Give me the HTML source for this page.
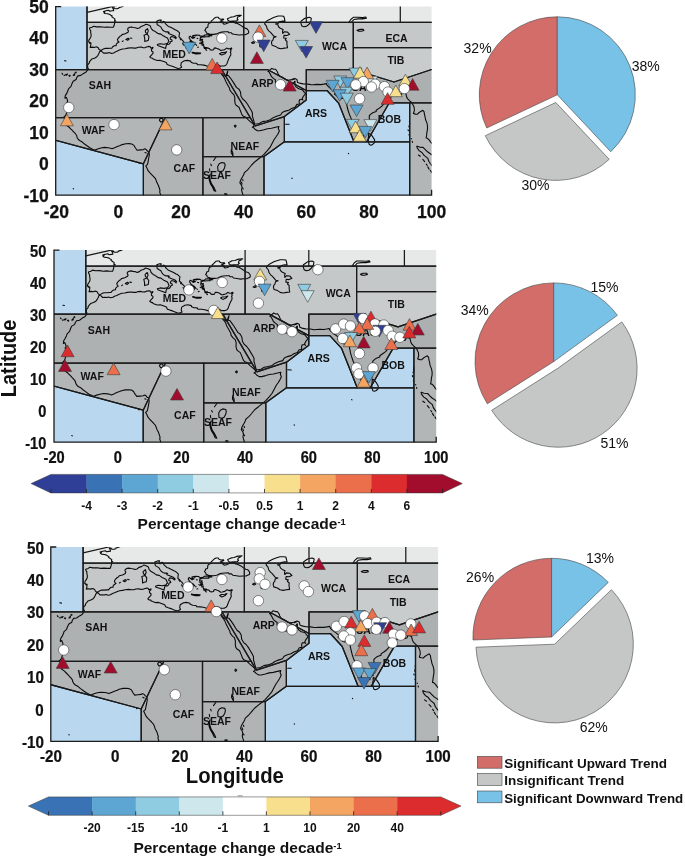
<!DOCTYPE html>
<html lang="en"><head><meta charset="utf-8"><title>Trend maps</title>
<style>html,body{margin:0;padding:0;background:#fff}svg{display:block}text{font-family:"Liberation Sans",Arial,sans-serif;fill:#111}.b{font-weight:700}.mk polygon,.mk circle{stroke:#3a3a3a;stroke-width:.6;stroke-linejoin:miter}.rg polygon{stroke:#1a1a1a;stroke-width:1.25;stroke-linejoin:round}.cs polyline,.cs polygon{fill:none;stroke:#0a0a0a;stroke-width:1.1;stroke-linejoin:round;stroke-linecap:round}</style></head><body>
<svg width="685" height="857" viewBox="0 0 685 857">
<rect width="685" height="857" fill="#fff"/>
<clipPath id="c0"><rect x="55.7" y="6.6" width="375.9" height="188.6"/></clipPath>
<g clip-path="url(#c0)">
<g class="rg" stroke="none">
<polygon points="87,22.3 87,-12.3 450.4,-12.3 450.4,22.3" fill="#e7e8e8" style="stroke:none"/>
<polygon points="36.9,69.5 36.9,-12.3 87,-12.3 87,69.5" fill="#b9d7ee" style="stroke:none"/>
<polygon points="87,69.5 87,22.3 243.7,22.3 243.7,69.5" fill="#c5c8c8" style="stroke:none"/>
<polygon points="243.7,69.5 243.7,22.3 353.3,22.3 353.3,69.5 306.3,69.5 306.3,90.5 267.5,69.5" fill="#c5c8c8" style="stroke:none"/>
<polygon points="353.3,47.5 353.3,22.3 450.4,22.3 450.4,47.5" fill="#c5c8c8" style="stroke:none"/>
<polygon points="353.3,69.5 353.3,47.5 450.4,47.5 450.4,63.2 431.6,69.5 394,82" fill="#c9cccc" style="stroke:none"/>
<polygon points="36.9,117.6 36.9,69.5 221.7,69.5 250.2,117.6" fill="#aeb1b2" style="stroke:none"/>
<polygon points="221.7,69.5 267.5,69.5 306.3,90.5 306.3,100 284.4,116.6 255.2,126" fill="#aeb1b2" style="stroke:none"/>
<polygon points="36.9,135.2 36.9,117.6 165.3,117.6 143.4,163.8" fill="#b3b6b7" style="stroke:none"/>
<polygon points="36.9,214.1 36.9,135.2 143.4,163.8 143.4,214.1" fill="#b9d7ee" style="stroke:none"/>
<polygon points="143.4,163.8 165.3,117.6 202.9,117.6 202.9,214.1 143.4,214.1" fill="#b1b4b5" style="stroke:none"/>
<polygon points="202.9,156.5 202.9,117.6 250.2,117.6 255.2,126 284.4,116.6 284.4,141.8 264,156.5" fill="#b1b4b5" style="stroke:none"/>
<polygon points="202.9,214.1 202.9,156.5 264,156.5 264,214.1" fill="#b1b4b5" style="stroke:none"/>
<polygon points="284.4,141.8 284.4,116.6 306.3,100 306.3,90.5 327,90.5 338.6,103.1 353.9,141.8" fill="#b9d7ee" style="stroke:none"/>
<polygon points="306.3,90.5 306.3,69.5 353.3,69.5 394,82 431.6,69.5 450.4,63.2 450.4,102.8 389.3,102.8 366.8,141.8 353.9,141.8 338.6,103.1 327,90.5" fill="#adb0b1" style="stroke:none"/>
<polygon points="366.8,141.8 389.3,102.8 409.7,102.8 409.7,141.8" fill="#b9d7ee" style="stroke:none"/>
<polygon points="409.7,102.8 450.4,102.8 450.4,214.1 409.7,214.1" fill="#b3b6b7" style="stroke:none"/>
<polygon points="264,214.1 264,156.5 284.4,141.8 409.7,141.8 409.7,214.1" fill="#b9d7ee" style="stroke:none"/>
</g>
<g class="cs">
<polyline points="123.4,6 121.5,6.9 119,7.5 118.7,8.3 117.1,8.8 114.9,8.6 114.3,7.9 112.4,7.5 113.3,9.1 113.7,10.7 112.1,10.8 109.9,11.2 108.6,10.2 106.1,10.7 103.5,11.5 104.9,11.9 103.9,12.7 104.9,13.5 107.7,13.8 109.9,14.5 110.8,15.2 112.1,15.7 111.8,16.7 113.7,18.1 114.9,18.9 114.6,20.1 115.8,21.1 114.7,20.7 114.6,23.3 114,25.8 113.3,27.3 112.7,27.3 110.2,27.3 107.4,27 104.3,27.3 100.5,26.7 96.4,26.9 93.6,26.2 92,27.3 89.5,28.1 89.8,29.5 90.8,30.8 90.6,32.1 91.1,34.3 91.1,36.1 90.5,37.7 88.9,40.1 88.6,42 89.7,42.3 89.5,43.1 90.9,42.9 90.8,44.6 90.6,46.2 90.2,47.5 92.4,47.1 94.2,47.5 96.4,46.8 98.3,47.8 98.9,49.3 100.5,50.4 101.6,50.1 103.3,49 104.9,48.4 107.4,48.4 110.2,48.2 111.8,48.2 112.7,46.8 114.3,45.7 116.2,45.6 116.2,44.3 117.4,42.9 119,42 118,41.2 117.4,39.6 118.4,38 120.2,36.1 121.2,35.7 122.1,34.6 125.2,33.8 128.1,32.2 128.5,30.8 127.7,29.9 127.9,28.3 129.6,27.3 131.5,27 133.4,27.5 135.3,27.7 137.5,28.4 139.3,28 141.2,26.4 143.7,25.6 145.9,24.2 148.1,24.8 150.3,25.9 151.2,28.6 153.1,30.5 155.3,31.6 156.9,32.7 158.1,33.6 161,34.1 162.5,35.4 163.8,36.1 165.3,36.9 167.4,37.9 168.2,39.6 168.9,41.5 168,42.4 167.4,44 167.7,44.5 168.9,44.3 170.2,43.1 170.3,41.8 172.1,41.2 171.9,39.9 170.2,39 170.3,37.7 171.3,36.6 172.5,36.8 174.4,37.4 175.8,38.7 176.3,37.6 174.7,36 171.6,34.7 168.5,33.5 168.2,32.8 169.1,32.2 168.2,31.9 166,31.9 164.4,31.3 162.8,30.2 161.7,28.6 160.8,26.9 158.8,25.6 157.2,24.7 156.9,22.9 157.2,22.3 156.6,21.2 158.1,20.6 159.7,20 161.3,20.1 160.8,20.9 161,22.3 161.9,22.9 163,21.7 163.8,21.4 165,22.3 165.3,23.7 166.6,24.8 168.3,26.4 170,27 172.2,28.1 173.8,28.9 175.7,30 176.9,30.5 178.3,31.7 179.6,32.8 179.3,34.3 179.1,36.1 179,36.9 180.7,38.3 181.5,39.4 183.2,41.2 183.8,42 184.4,43.2 186,43.4 187.9,43.2 190.1,44.3 188.2,43.7 186.3,43.7 185.1,44.5 185.1,45.6 186.2,46.8 186.3,48.1 187.1,48.1 187.7,47.5 188.5,49.2 189.1,48.1 190.6,48.9 191,49.2 190.4,47.5 189.8,46 191,46.4 192,45.9 190.9,44.6 192.3,44.6 193.7,45.4 193.7,43.8 192.3,42.7 190.4,41.6 189.8,41.6 191.3,40.5 190.2,40.1 189.9,39 189.1,38 189.3,36.6 190.1,36.1 191.3,37.2 192.6,38.2 191.8,37.2 193.4,38.2 192.7,37.1 194.8,37.6 193.2,36.6 192.6,35.8 194.5,35.4 196.7,35 199.5,35.4 200,36 202.3,36.1 200.4,37.1 200.4,37.9 202,36.6 203.9,35.8 204.8,35 206.7,34.7 209.2,34.9 209.3,34.1 206.4,33 206.1,31.7 204.8,30.3 205.7,29.2 205.9,28 207.8,27.3 207.9,26.1 208.1,24.5 209,23.3 211.2,22.6 211.2,21.2 213,19.6 214.7,17.9 216.1,17.3 218.3,17.3 218.9,18.5 220.8,19.2 223.3,19 223.6,19.6 220.2,21.2 223,21.8 223,23.6 224.1,24.2 226.1,23.7 228.3,22.8 229.6,22 232.5,22.2 233,21.1 229.6,21.4 228,20.3 227.4,18.7 229.1,18.1 230.8,17.1 233.6,16.8 236.1,15.7 238.3,15.4 241.3,15.2 239.3,16.5 237.7,17.1 237.1,19 238,19.5 236.4,21.1 233.6,21.1 233,21.8 235.2,23.1 236.8,23.3 239.3,24.5 241.1,25.6 243,27 244.9,28.1 246.8,28.6 248.3,30.5 248.8,32.1 248.3,33.3 245.2,34.7 242.4,34.7 239,35 237.1,34.7 234.3,34.3 232.2,33.9 231.1,32.7 228.6,32.7 228.3,31.7 224.9,31.8 221.7,32.1 219.2,32.7 216.7,33.9 213.6,34.4 209.8,34.3 209.3,34.7 212,35.7 208.9,36 209.2,36.8 206.1,36.8 204.8,36.9 202.9,36.8 201,37.6 200.3,38.2 200.1,39.6 202.6,39.4 202,40.4 202.9,41.3 202.3,42.1 200.9,42.3 201.7,43.1 203.2,42.9 202,43.4 200.7,43.5 202,44.2 203.7,44.5 203.6,46.2 204.5,47.1 203.9,47.5 206.7,47.5 204.2,48.4 206.1,48.7 207,47.9 208.9,48.4 209.7,48.7 210.1,49.8 211.7,50.1 213.6,49.8 214.2,48.1 215.5,47.9 217.3,48.6 218.6,49 220.5,50.4 222,50.3 224.5,49.7 226.7,48.1 228.6,48.9 229.9,48.7 231.6,47.9 231.7,48.9 230.5,49.7 231,50.9 230.3,52.2 230.8,53.1 230.8,54.9 230,56.3 229.6,57.2 228.6,59.1 228,60.7 227.5,61.9 227,63.5 226.1,64.8 225.5,65.4 223.9,66 222,66 220.5,66.2 219.5,65.4 218,64.8 216.1,64.6 214.8,64.9 213.6,64.8 212,65.7 209.8,66.8 207,66 203.9,65.1 200.7,64.8 197.3,64.6 196.7,63.3 193.5,63.2 191,62.2 190.7,61.1 187.3,60.4 184.4,60.7 181.3,62.6 180.8,65.4 181.6,67.3 179.7,68.2 177.9,68.5 175.4,67.6 172.2,66.3 169.7,65.5 167.2,64.6 166.3,62.6 163.8,61.6 160.3,60.4 157.2,60.5 154.4,59.6 153.1,59.1 152.8,58.2 151.2,58 149.8,56.9 151.2,55.3 153,53.4 153,51.9 151.6,51.1 151.4,49.5 152.8,48.1 153,47.2 151.2,47.9 150.6,47.9 150.3,46.8 149.2,46.4 147.2,46.8 145.3,47.6 143.1,47.8 141.2,47.1 138.4,47.3 136.2,48.1 134.3,48.1 131.2,47.8 127.9,48.1 125.2,48.7 122.4,49 119.3,50.1 117.4,51.1 115.2,51.9 113.7,53 111.5,53.4 109.1,52.6 107.7,53.1 105.8,53 103.6,53.1 101.7,51.4 101.1,50.9 99.9,51.2 99.2,52.8 98,55.3 96.9,56.7 94.5,58.2 91.7,59.1 89.4,61.9 89.2,63.2 87.7,64.8 87.5,67.4 88.3,68.4 87.3,70.4 86.1,72 83.6,73.4 80.8,75.4 77.9,75.9 76.7,77.6 76.1,79.5 73.2,81.3 72,83.6 71,86.4 68.5,88.8 67.9,90.8 66.7,93.4 65.3,95.6 64.9,98.2 66.4,97.4 67.3,99.6 67.6,101.5 66.7,102.8 67.9,104.7 68.2,107.2 67.3,110.3 66.5,113.5 65.4,115.7 63.5,117.4 64.8,118.5 65.9,120.1 66,121.6 65.7,123.5 66,124.9 67.6,126 68.9,127 70.7,128.9 72.3,130.4 73.6,131.9 75.4,133.7 76.7,135.5 77,137.2 77.9,138.9 79.5,140.5 82.3,142.1 84.5,144 87.3,146 90.2,148 93,149.5 94.9,150.1 97.7,149 100.8,148 104.3,147.4 108.3,147.7 110.5,148.2 112.1,148.8 114.6,147.7 117.4,146.5 120.2,145.5 122.1,144.6 125.9,143.8 129,143.6 131.8,144 134,145.4 135.3,147.7 137.1,150.3 140.3,149.9 143.4,149.6 145,148.8 146.2,149.6 147.5,151.2 148.4,151.4 149,153.1 149.4,154.7 149,156.5 148.4,160 148,162.2 147.5,164.4 145.8,165.8 146.9,167.9 148.1,170.7 150,172.9 151.9,174.8 153.4,176.3 155.5,178.7 156.4,181.1 156.9,182.6 158.4,185.5 159.4,188.3 160,190.5 159.7,192.1 160.3,193.9 161,196.1"/>
<polygon points="267.5,20.4 265.3,22.3 264.6,23.9 266.5,26.1 267.1,28.6 268.7,30.8 270.6,32.4 272.5,34.6 273.7,36.1 276.1,36.8 273.4,37.7 273.1,39.9 271.8,41.2 271.5,43.1 272.2,45.3 275.6,46.4 278.1,48.1 281.2,48.7 284.4,48.1 287.5,47.8 287.2,46.2 286.9,43.7 287,41.5 285.3,39.9 286.3,38.3 283.7,38 284.1,35.2 286.9,35.5 289.7,34.3 287.5,32.1 284.4,31.7 282.8,33.3 282.5,31.4 283.1,29.5 280.3,28.3 278.7,27 277.8,24.8 275.6,23.9 278.1,23.6 279,21.7 282.8,21.1 285,21.4 284.4,18.2 283.7,16.3 281.2,16 278.1,16 275,17 272.5,17.9 270.6,18.9 267.5,20.4"/>
<polygon points="301,23.6 301,21.1 303.2,19.5 305,18.2 307.9,17.6 309.4,17.3 311.3,18.2 311,20.4 310.1,22.6 308.8,24.5 306.3,26.4 303.8,26.7 301.9,26.1 301,23.6"/>
<polygon points="348.9,22.3 350.8,19.5 353.3,17.3 358,17.3 362.7,17.6 365.8,17 366.4,18.2 362.7,18.9 358,18.9 353.9,19.5 352,21.7 350.2,22.6 348.9,22.3"/>
<polygon points="357,30.3 359.6,29.4 363.3,29.4 363.9,30.5 361.1,31.3 358.3,31.1 357,30.3"/>
<polygon points="251.5,42.7 253.7,41.5 254.6,42.7 253,43.4 251.5,42.7"/>
<polygon points="259.9,46.8 259.6,44.3 261.2,43.7 262.1,45.9 261.2,47.1 259.9,46.8"/>
<polyline points="220.3,69.6 219.7,70.7 220.6,72.6 222,74.8 223.4,76.4 224.5,78.3 225.8,81.4 227.7,84.9 229.6,88.3 229.9,90.2 232.1,93 233.9,94.6 234.9,97.8 234.7,100.9 235.2,103.7 236.1,105.3 239,107.2 240.5,111 241.8,114.4 243,116 245.8,117.2 248.3,119.8 251.2,122.3 253.4,124.2 254.1,126 252.4,127.3 253.7,127.8 254.9,129.2 257.4,130.8 259.9,130.8 264,129.8 267.5,128.7 271.5,128.2 275.6,127.3 278.9,126.5 278.3,128.6 279.4,130.9 277.8,134.2 275.9,137 274.3,139.2 272.2,143.3 270,147.4 267.1,150.9 263.7,154.7 260.3,157.5 256.8,160.3 253.7,162.8 251.6,165 249.6,167.5 247.4,170.1 245.5,171.6 244.3,172.9 244,174.1 242.7,176.5 241.5,178.5 240.5,180.4 239.9,182.9 241.5,185.1 242.1,187.7 241.5,189.9 242.1,192.1 243,195.2 244.6,196.8"/>
<polyline points="220.5,69.6 221.4,72 222.3,73.9 223.9,75.4 225.6,76.5 226.3,75.4 227,72.9 227.8,70.9 227.5,72.9 226.9,75.4 228.6,75.8 230.2,77.8 232.7,81.4 234.9,84.9 236.4,87.4 239,89.3 240.5,92.1 241,96.2 242.7,99 245.2,101.2 247.4,104 249.3,107.2 251.2,110.3 252.4,112.8 252.4,116 253,118.2 254,121.6 254.6,123.8 256.8,124 259.3,123.5 262.4,121.6 266.5,121 270.3,119.8 272.8,117.9 276.5,116.3 280.6,115 282.2,112.5 285.3,111.1 288.8,110.2 291.6,108.4 295,107.2 296.9,104.4 299.4,104 299.1,101.5 299.7,99.6 301.9,99.3 303.2,96.5 305.7,93.4 304.4,92.4 302.2,89.6 298.8,88.8 296.3,87.1 295,85.2 295,81.1 294.1,81.9 293.8,83 291.6,84.4 289.1,86.8 286.3,88 283.1,87.9 280.3,88.3 279.7,86.4 280,84.2 279.7,82.4 278.9,81.6 277.6,83.3 277.5,85.8 275.9,83.9 275.3,81.4 275.4,79.8 273.7,78.6 271.5,76.7 270.6,74.8 269.6,72.9 268.7,71.5 267.9,71.4 269,70.6 270.3,69.6 271.7,68.4 273.7,69.3 275.6,69.2 277.5,72 277.8,73.2 279.4,75.9 281.9,77 283.4,78 285.9,79.7 289.1,80.2 291.6,79.5 294.7,78.4 296.9,79.4 297.5,82.4 299.4,83.1 303.2,83.9 307.9,84.1 311.3,84.7 314.1,84.6 317.3,84.4 320.7,84.6 323.8,84.1 326.3,83.6 327.3,85.7 329.2,87.4 331,89 332.6,89.9 335.1,92.1 338.6,91.6 337.6,93 334.8,93.4 334.5,94 336.4,95.7 338.9,98.1 341.1,98.7 343.9,97.4 344.5,95.6 345.8,93.8 345.8,95.9 346.4,97.8 346.7,100 346.2,102.8 346.7,104.4 347.3,107.5 348.3,111 349.5,114.7 350.8,117.6 352,121 353.3,124.2 355.2,127.6 356.7,131.1 357.7,133.9 358.6,136.1 360.2,137.8 361.3,138.4 363,137 363.3,135.5 365.8,134.5 365.5,133.6 367.1,131.4 368.5,131.4 368.5,128.6 368.3,126 369.6,123.5 369.9,121.3 369.3,118.5 369.3,115.7 371.1,113.9 372.7,112.8 376.2,111.6 376.2,110.3 379.3,108.1 381.8,106.2 384.3,103.4 386.2,101.8 389,101.1 390.3,99.3 390.9,97.1 392.8,95.9 394.6,95.2 396.8,95.9 399.3,95.2 401.2,94.9 402.2,92.7 404.3,92.7 405.9,93.7 406.5,96.5 407.5,98.7 409.4,100.6 411.6,102.5 412.8,104.4 414.1,107.2 414.4,110.3 413.4,113.5 415.6,114.1 417.2,114.3 419.1,112.5 421.6,111 422.8,110.3 424.1,111.9 424.4,114.1 425,116.6 425.6,119.8 426.9,122.9 427.5,126 427.5,129.2 426.9,132.3 426.6,135.5 426.1,138 427.5,138.3 429.1,139.9 430.7,142.1 432.5,144"/>
<polygon points="368.6,133.3 370.5,134.2 372.7,136.7 374.6,139.9 374.6,142.7 372.7,144.4 370.8,145.2 369.3,144.6 368.5,142.1 368.2,138.9 368.6,136.1 368.6,133.3"/>
<polyline points="416.9,146.2 419.7,147.1 423.1,147.4 425.3,149.6 427.5,151.8 430.3,153.7 432.9,155.6"/>
<polyline points="416.9,146.2 417.2,148 419.4,150.9 421.9,152.5 424.1,155.3 426,156.9 427.8,158.4 428.8,161.3 430.3,163.5 432.5,166.3 433.5,168.2"/>
<polyline points="418.4,155 420.3,156.2"/>
<polyline points="422.8,159.4 424.7,161.6"/>
<polyline points="426.3,164.1 427.2,165.3"/>
<polyline points="427.8,166.9 429.1,169.1"/>
<polyline points="430.3,170.4 431.9,172.6"/>
<polyline points="409.4,121.3 409.7,124.2 408.9,127"/>
<polyline points="408.1,129.8 408.4,130.8"/>
<polyline points="409,134.8 409.2,135.2"/>
<polyline points="411.2,138.6 411.6,138.9"/>
<polyline points="412.2,141.4 412.5,142.4"/>
<polygon points="62,73.2 62.7,74.2 62.3,73.9"/>
<polygon points="65.4,74.8 67.6,74 66.7,75.1"/>
<polygon points="68.9,75.6 70.1,75.4 69.8,76.4"/>
<polygon points="73.2,75.4 74.8,73.6 74.5,75.1"/>
<polygon points="75.1,72.6 76.1,72 76.1,72.8"/>
<polyline points="64,75.3 64.8,75.4"/>
<polyline points="64.5,60.7 66,61"/>
<polygon points="125.9,39.4 128.1,38.2 129.2,39 127.7,40.2 125.9,39.4"/>
<polyline points="130.3,38 131.8,38.3"/>
<polyline points="122.3,41.5 123.2,40.9"/>
<polygon points="145.3,30.5 147.5,28.6 148.3,31.1 147.2,33.6 145.6,32.5 145.3,30.5"/>
<polygon points="144,35.2 147.2,34.1 148.9,36.5 148.4,40.2 146.5,40.9 144.8,41.5 144.7,38.3 144,35.2"/>
<polygon points="157.3,44.6 160,43.7 163.8,44.2 167.2,43.5 166,46.2 165.7,48.4 163.1,47.5 160.3,46.5 157.8,45.6 157.3,44.6"/>
<polygon points="192.1,52.2 194.5,52.6 197.6,52.8 200.7,53 199.8,53.8 196,53.9 192.3,53 192.1,52.2"/>
<polygon points="219.5,53.8 221.4,52.6 224.5,52.5 226.7,51.7 224.9,53.8 221.7,55 219.5,53.8"/>
<polyline points="190.4,41.2 192.3,42 194.2,43.4 195.4,44.3 193.8,42.4 191.7,41.2"/>
<polyline points="199.8,40.5 201.4,41"/>
<polyline points="199.5,43.1 200.1,43.5"/>
<polyline points="202,45.1 202.8,45.3"/>
<polyline points="205.7,49.7 206.7,50.3"/>
<polyline points="197.6,47.3 198.4,47.1"/>
<polyline points="196.3,44.8 196.7,45.3"/>
<polyline points="197,38.3 197.9,38.5"/>
<polyline points="195.1,36 195.9,35.8"/>
<polyline points="180.1,38.8 180.8,39.8"/>
<polyline points="182.6,43.4 183.2,44"/>
<polyline points="183.2,44.8 183.8,45.1"/>
<polyline points="285.6,124.2 289.1,124.3"/>
<polyline points="291.9,80 294.4,79.1"/>
<polyline points="302.2,99.2 303,100.1"/>
<polyline points="241.3,182 242.1,183.9"/>
<polyline points="242.7,179.5 243,180.7"/>
<polyline points="242.7,188 243.2,188.9"/>
<polyline points="145,152.5 146.2,153.1"/>
<polyline points="138.9,162.8 139.2,163.5"/>
<polyline points="348.4,153.4 348.7,153.7"/>
<polyline points="73.2,188.6 73.6,188.9"/>
<polyline points="291.9,178.2 292.2,178.5"/>
<polygon points="217.7,166.6 218,171 221.1,171.6 223,170.7 224.5,167.9 225.2,165 224.5,163.1 221.7,162.5 219.2,163.8 217.7,166.6"/>
<polygon points="210.3,174.3 209.5,177 210.4,180.7 211.4,183.6 213.6,186.7 215.1,189.9 215.8,191.3 214.2,190.8 212.6,187.3 210.4,183.6 209.3,180.4 209,177 210.3,174.3"/>
<polyline points="224.9,193.9 226.7,193.8 227,196.1"/>
<polyline points="224.9,193.9 225.2,196.1"/>
<polygon points="231.4,149.6 231.1,152.5 233,155.9 232.7,152.5 231.4,149.6"/>
<polyline points="213.6,160.5 216.4,156.5"/>
<polyline points="210.8,164.1 211.4,165.7"/>
<polyline points="209.5,168.8 209.8,171.3"/>
<polygon points="159.4,120.1 160.3,118.5 162.2,118.2 163.1,119.8 162.5,121.6 160.6,122 159.4,120.1"/>
<polygon points="234.3,126 235.2,125.1 236.1,126 235.2,127.3 234.3,126"/>
</g>
<g class="rg">
<polygon points="87,22.3 87,-12.3 450.4,-12.3 450.4,22.3" fill="none"/>
<polygon points="36.9,69.5 36.9,-12.3 87,-12.3 87,69.5" fill="none"/>
<polygon points="87,69.5 87,22.3 243.7,22.3 243.7,69.5" fill="none"/>
<polygon points="243.7,69.5 243.7,22.3 353.3,22.3 353.3,69.5 306.3,69.5 306.3,90.5 267.5,69.5" fill="none"/>
<polygon points="353.3,47.5 353.3,22.3 450.4,22.3 450.4,47.5" fill="none"/>
<polygon points="353.3,69.5 353.3,47.5 450.4,47.5 450.4,63.2 431.6,69.5 394,82" fill="none"/>
<polygon points="36.9,117.6 36.9,69.5 221.7,69.5 250.2,117.6" fill="none"/>
<polygon points="221.7,69.5 267.5,69.5 306.3,90.5 306.3,100 284.4,116.6 255.2,126" fill="none"/>
<polygon points="36.9,135.2 36.9,117.6 165.3,117.6 143.4,163.8" fill="none"/>
<polygon points="36.9,214.1 36.9,135.2 143.4,163.8 143.4,214.1" fill="none"/>
<polygon points="143.4,163.8 165.3,117.6 202.9,117.6 202.9,214.1 143.4,214.1" fill="none"/>
<polygon points="202.9,156.5 202.9,117.6 250.2,117.6 255.2,126 284.4,116.6 284.4,141.8 264,156.5" fill="none"/>
<polygon points="202.9,214.1 202.9,156.5 264,156.5 264,214.1" fill="none"/>
<polygon points="284.4,141.8 284.4,116.6 306.3,100 306.3,90.5 327,90.5 338.6,103.1 353.9,141.8" fill="none"/>
<polygon points="306.3,90.5 306.3,69.5 353.3,69.5 394,82 431.6,69.5 450.4,63.2 450.4,102.8 389.3,102.8 366.8,141.8 353.9,141.8 338.6,103.1 327,90.5" fill="none"/>
<polygon points="366.8,141.8 389.3,102.8 409.7,102.8 409.7,141.8" fill="none"/>
<polygon points="409.7,102.8 450.4,102.8 450.4,214.1 409.7,214.1" fill="none"/>
<polygon points="264,214.1 264,156.5 284.4,141.8 409.7,141.8 409.7,214.1" fill="none"/>
<polyline points="243.7,22.3 243.7,-12.3" fill="none" stroke="#1a1a1a" stroke-width="1.25"/>
<polyline points="306.3,22.3 306.3,-12.3" fill="none" stroke="#1a1a1a" stroke-width="1.25"/>
<polyline points="400.3,22.3 400.3,-12.3" fill="none" stroke="#1a1a1a" stroke-width="1.25"/>
<polyline points="87,12.3 112.1,6.6 137.1,0.9" fill="none" stroke="#1a1a1a" stroke-width="1.25"/>
</g>
<g class="b" font-size="10.5" text-anchor="middle">
<text x="174.1" y="57.5">MED</text>
<text x="99.9" y="88.6">SAH</text>
<text x="93.3" y="133.8">WAF</text>
<text x="184.4" y="172.2">CAF</text>
<text x="244.9" y="149.9">NEAF</text>
<text x="217" y="179.1">SEAF</text>
<text x="316" y="116.5">ARS</text>
<text x="389.3" y="123.1">BOB</text>
<text x="334.5" y="50.2">WCA</text>
<text x="396.5" y="42">ECA</text>
<text x="395.9" y="63.7">TIB</text>
<text x="262.4" y="86.7">ARP</text>
<text x="362.7" y="91.4">SAS</text>
</g>
</g>
<path d="M61.2 6.6H55.7V195.2H431.6V189.7" fill="none" stroke="#1a1a1a" stroke-width="1.3"/>
<g class="b" font-size="17.5" stroke="#111" stroke-width=".25">
<text transform="translate(48.8,13) scale(1,1)" text-anchor="end">50</text>
<text transform="translate(48.8,44.4) scale(1,1)" text-anchor="end">40</text>
<text transform="translate(48.8,75.9) scale(1,1)" text-anchor="end">30</text>
<text transform="translate(48.8,107.3) scale(1,1)" text-anchor="end">20</text>
<text transform="translate(48.8,138.7) scale(1,1)" text-anchor="end">10</text>
<text transform="translate(48.8,170.2) scale(1,1)" text-anchor="end">0</text>
<text transform="translate(48.8,201.6) scale(1,1)" text-anchor="end">-10</text>
<text transform="translate(56.3,218) scale(1,1)" text-anchor="middle">-20</text>
<text transform="translate(118.4,218) scale(1,1)" text-anchor="middle">0</text>
<text transform="translate(181,218) scale(1,1)" text-anchor="middle">20</text>
<text transform="translate(243.7,218) scale(1,1)" text-anchor="middle">40</text>
<text transform="translate(306.3,218) scale(1,1)" text-anchor="middle">60</text>
<text transform="translate(368.9,218) scale(1,1)" text-anchor="middle">80</text>
<text transform="translate(431.6,218) scale(1,1)" text-anchor="middle">100</text>
</g>
<g class="mk">
<polygon points="182.7,42.3 195.7,42.3 189.2,53.9" fill="#5da5d2"/>
<polygon points="205.7,70 218.7,70 212.2,58.4" fill="#ec6f4b"/>
<polygon points="210.6,73.6 223.6,73.6 217.1,62" fill="#dc2c2e"/>
<circle cx="221.8" cy="38.2" r="5.2" fill="#fff"/>
<circle cx="68.8" cy="107.5" r="5.2" fill="#fff"/>
<polygon points="60.4,125.8 73.4,125.8 66.9,114.2" fill="#f4a562"/>
<circle cx="114" cy="124.6" r="5.2" fill="#fff"/>
<polygon points="159,129.9 172,129.9 165.5,118.3" fill="#f4a562"/>
<circle cx="176.7" cy="149.9" r="5.2" fill="#fff"/>
<polygon points="252.9,36.5 265.9,36.5 259.4,24.9" fill="#ec6f4b"/>
<circle cx="258.1" cy="37.1" r="5.2" fill="#fff"/>
<polygon points="257.2,40.1 270.2,40.1 263.7,51.7" fill="#2f3f97"/>
<polygon points="250.4,63.4 263.4,63.4 256.9,51.8" fill="#a30d2d"/>
<polygon points="309.5,21.8 322.5,21.8 316,33.4" fill="#2f3f97"/>
<polygon points="295.3,40.4 308.3,40.4 301.8,52" fill="#8fcbe1"/>
<polygon points="299.6,46.5 312.6,46.5 306.1,58.1" fill="#2f3f97"/>
<circle cx="280.5" cy="84.7" r="5.2" fill="#fff"/>
<polygon points="283.2,91.1 296.2,91.1 289.7,79.5" fill="#a30d2d"/>
<polygon points="333.7,76 346.7,76 340.2,87.6" fill="#8fcbe1"/>
<polygon points="326.1,80.3 339.1,80.3 332.6,91.9" fill="#5da5d2"/>
<polygon points="341,77.7 354,77.7 347.5,89.3" fill="#5da5d2"/>
<polygon points="364.8,76.3 377.8,76.3 371.3,87.9" fill="#cde7ed"/>
<polygon points="349,68.1 362,68.1 355.5,79.7" fill="#8fcbe1"/>
<polygon points="360.6,78.7 373.6,78.7 367.1,67.1" fill="#f4a562"/>
<polygon points="353.5,78.2 366.5,78.2 360,66.6" fill="#f7df8e"/>
<polygon points="339.6,87.2 352.6,87.2 346.1,98.8" fill="#8fcbe1"/>
<polygon points="333.1,89.7 346.1,89.7 339.6,101.3" fill="#5da5d2"/>
<polygon points="340.3,93.2 353.3,93.2 346.8,104.8" fill="#8fcbe1"/>
<circle cx="363.3" cy="81.6" r="5.2" fill="#fff"/>
<circle cx="355.8" cy="84.8" r="5.2" fill="#fff"/>
<circle cx="375.2" cy="84.2" r="5.2" fill="#fff"/>
<circle cx="371.5" cy="87" r="5.2" fill="#fff"/>
<circle cx="384.4" cy="86.6" r="5.2" fill="#fff"/>
<circle cx="388" cy="92" r="5.2" fill="#fff"/>
<polygon points="389.3,96.7 402.3,96.7 395.8,85.1" fill="#f7df8e"/>
<polygon points="381.1,104.3 394.1,104.3 387.6,92.7" fill="#dc2c2e"/>
<polygon points="398.9,85.8 411.9,85.8 405.4,74.2" fill="#f7df8e"/>
<polygon points="406.1,90.2 419.1,90.2 412.6,78.6" fill="#a30d2d"/>
<circle cx="404.4" cy="88.6" r="5.2" fill="#fff"/>
<circle cx="359.6" cy="98.7" r="5.2" fill="#fff"/>
<polygon points="350.1,105 363.1,105 356.6,116.6" fill="#5da5d2"/>
<polygon points="346.2,119.4 359.2,119.4 352.7,131" fill="#8fcbe1"/>
<polygon points="349.1,132.7 362.1,132.7 355.6,121.1" fill="#f7df8e"/>
<polygon points="363.9,119.6 376.9,119.6 370.4,131.2" fill="#cde7ed"/>
<polygon points="353.1,141.3 366.1,141.3 359.6,129.7" fill="#f7df8e"/>
<polygon points="358.8,126.4 371.8,126.4 365.3,138" fill="#5da5d2"/>
</g>
<clipPath id="c1"><rect x="54" y="250.1" width="382.2" height="192.1"/></clipPath>
<g clip-path="url(#c1)">
<g class="rg" stroke="none">
<polygon points="85.8,266.1 85.8,230.9 455.3,230.9 455.3,266.1" fill="#e7e8e8" style="stroke:none"/>
<polygon points="34.9,314.1 34.9,230.9 85.8,230.9 85.8,314.1" fill="#b9d7ee" style="stroke:none"/>
<polygon points="85.8,314.1 85.8,266.1 245.1,266.1 245.1,314.1" fill="#c5c8c8" style="stroke:none"/>
<polygon points="245.1,314.1 245.1,266.1 356.6,266.1 356.6,314.1 308.8,314.1 308.8,335.6 269.3,314.1" fill="#c5c8c8" style="stroke:none"/>
<polygon points="356.6,291.7 356.6,266.1 455.3,266.1 455.3,291.7" fill="#c5c8c8" style="stroke:none"/>
<polygon points="356.6,314.1 356.6,291.7 455.3,291.7 455.3,307.7 436.2,314.1 398,326.9" fill="#c9cccc" style="stroke:none"/>
<polygon points="34.9,363.1 34.9,314.1 222.8,314.1 251.8,363.1" fill="#aeb1b2" style="stroke:none"/>
<polygon points="222.8,314.1 269.3,314.1 308.8,335.6 308.8,345.2 286.5,362.2 256.9,371.8" fill="#aeb1b2" style="stroke:none"/>
<polygon points="34.9,381 34.9,363.1 165.5,363.1 143.2,410.2" fill="#b3b6b7" style="stroke:none"/>
<polygon points="34.9,461.4 34.9,381 143.2,410.2 143.2,461.4" fill="#b9d7ee" style="stroke:none"/>
<polygon points="143.2,410.2 165.5,363.1 203.7,363.1 203.7,461.4 143.2,461.4" fill="#b1b4b5" style="stroke:none"/>
<polygon points="203.7,402.8 203.7,363.1 251.8,363.1 256.9,371.8 286.5,362.2 286.5,387.8 265.8,402.8" fill="#b1b4b5" style="stroke:none"/>
<polygon points="203.7,461.4 203.7,402.8 265.8,402.8 265.8,461.4" fill="#b1b4b5" style="stroke:none"/>
<polygon points="286.5,387.8 286.5,362.2 308.8,345.2 308.8,335.6 329.8,335.6 341.6,348.4 357.2,387.8" fill="#b9d7ee" style="stroke:none"/>
<polygon points="308.8,335.6 308.8,314.1 356.6,314.1 398,326.9 436.2,314.1 455.3,307.7 455.3,348.1 393.2,348.1 370.3,387.8 357.2,387.8 341.6,348.4 329.8,335.6" fill="#adb0b1" style="stroke:none"/>
<polygon points="370.3,387.8 393.2,348.1 413.9,348.1 413.9,387.8" fill="#b9d7ee" style="stroke:none"/>
<polygon points="413.9,348.1 455.3,348.1 455.3,461.4 413.9,461.4" fill="#b3b6b7" style="stroke:none"/>
<polygon points="265.8,461.4 265.8,402.8 286.5,387.8 413.9,387.8 413.9,461.4" fill="#b9d7ee" style="stroke:none"/>
</g>
<g class="cs">
<polyline points="122.8,249.5 120.9,250.4 118.3,251.1 118,251.9 116.4,252.3 114.2,252.2 113.6,251.4 111.6,251.1 112.6,252.7 112.9,254.3 111.3,254.4 109.1,254.7 107.8,253.8 105.3,254.3 102.6,255.1 104,255.5 103,256.3 104,257.1 106.9,257.5 109.1,258.1 110.1,258.9 111.3,259.4 111,260.3 112.9,261.8 114.2,262.6 113.9,263.9 115.2,264.8 114,264.5 113.9,267.1 113.2,269.6 112.6,271.2 112,271.2 109.4,271.2 106.6,270.9 103.4,271.2 99.5,270.6 95.4,270.8 92.5,270.1 90.9,271.2 88.4,272 88.7,273.5 89.7,274.8 89.5,276 90,278.3 90,280.2 89.4,281.8 87.8,284.2 87.4,286.1 88.6,286.4 88.4,287.2 89.8,287.1 89.7,288.8 89.5,290.4 89,291.7 91.3,291.4 93.2,291.7 95.4,291.1 97.3,292 98,293.6 99.5,294.8 100.7,294.4 102.4,293.3 104,292.7 106.6,292.7 109.4,292.5 111,292.5 112,291.1 113.6,290 115.5,289.8 115.5,288.5 116.7,287.1 118.3,286.1 117.4,285.3 116.7,283.7 117.7,282.1 119.6,280.2 120.6,279.7 121.5,278.6 124.7,277.8 127.6,276.2 128.1,274.8 127.3,273.8 127.4,272.2 129.2,271.2 131.1,270.9 133,271.4 134.9,271.6 137.1,272.4 139,271.9 141,270.3 143.5,269.5 145.7,268 148,268.7 150.2,269.8 151.1,272.5 153.1,274.4 155.3,275.6 156.9,276.7 158.1,277.6 161,278.1 162.6,279.4 163.9,280.2 165.5,281 167.5,282 168.3,283.7 169.1,285.6 168.2,286.6 167.5,288.2 167.9,288.7 169.1,288.5 170.4,287.2 170.6,286 172.3,285.3 172.2,284 170.4,283.1 170.6,281.8 171.5,280.7 172.8,280.8 174.7,281.5 176.1,282.8 176.6,281.6 175,280 171.8,278.8 168.7,277.5 168.3,276.8 169.3,276.2 168.3,275.9 166.1,275.9 164.5,275.2 162.9,274.1 161.8,272.5 160.9,270.8 158.8,269.5 157.2,268.5 156.9,266.7 157.2,266.1 156.6,265 158.1,264.3 159.7,263.7 161.3,263.9 160.9,264.7 161,266.1 162,266.7 163.1,265.5 163.9,265.1 165.2,266.1 165.5,267.5 166.7,268.7 168.5,270.3 170.3,270.9 172.5,272 174.1,272.8 176,274 177.3,274.4 178.7,275.7 180,276.8 179.6,278.3 179.5,280.2 179.3,281 181.1,282.4 181.9,283.6 183.6,285.3 184.3,286.1 184.9,287.4 186.5,287.6 188.4,287.4 190.6,288.5 188.7,287.9 186.8,287.9 185.5,288.7 185.5,289.8 186.7,291.1 186.8,292.4 187.6,292.4 188.2,291.7 189,293.5 189.7,292.4 191.1,293.2 191.6,293.5 191,291.7 190.3,290.3 191.6,290.6 192.5,290.1 191.4,288.8 192.9,288.8 194.3,289.6 194.3,288 192.9,286.9 191,285.8 190.3,285.8 191.9,284.7 190.8,284.2 190.5,283.1 189.7,282.1 189.8,280.7 190.6,280.2 191.9,281.3 193.2,282.3 192.4,281.3 194,282.3 193.3,281.2 195.4,281.6 193.8,280.7 193.2,279.9 195.1,279.4 197.3,279.1 200.2,279.4 200.7,280 203.1,280.2 201.1,281.2 201.1,282 202.7,280.7 204.7,279.9 205.6,279 207.5,278.8 210.1,278.9 210.2,278.1 207.2,277 206.9,275.7 205.6,274.3 206.6,273.2 206.7,271.9 208.6,271.2 208.8,270 209,268.3 209.9,267.1 212.1,266.4 212.1,265 213.9,263.4 215.6,261.6 217.1,261 219.3,261 219.9,262.3 221.8,262.9 224.4,262.7 224.7,263.4 221.2,265 224.1,265.6 224.1,267.4 225.2,268 227.3,267.5 229.5,266.6 230.8,265.8 233.8,265.9 234.3,264.8 230.8,265.1 229.2,264 228.5,262.4 230.3,261.8 232,260.8 234.9,260.5 237.5,259.4 239.7,259.1 242.7,258.9 240.6,260.2 239,260.8 238.4,262.7 239.4,263.2 237.8,264.8 234.9,264.8 234.3,265.6 236.5,266.9 238.1,267.1 240.6,268.3 242.6,269.5 244.5,270.9 246.4,272 248.3,272.5 249.9,274.4 250.4,276 249.9,277.3 246.7,278.8 243.8,278.8 240.3,279.1 238.4,278.8 235.5,278.3 233.5,278 232.4,276.7 229.8,276.7 229.5,275.7 226,275.8 222.8,276 220.3,276.7 217.7,278 214.5,278.4 210.7,278.3 210.2,278.8 212.9,279.7 209.7,280 210.1,280.8 206.9,280.8 205.6,281 203.7,280.8 201.8,281.6 201,282.3 200.8,283.7 203.4,283.6 202.7,284.5 203.7,285.5 203.1,286.3 201.6,286.4 202.4,287.2 204,287.1 202.7,287.6 201.5,287.7 202.7,288.4 204.5,288.7 204.3,290.4 205.3,291.4 204.7,291.7 207.5,291.7 205,292.7 206.9,293 207.8,292.2 209.7,292.7 210.5,293 211,294.1 212.6,294.4 214.5,294.1 215.2,292.4 216.4,292.2 218.3,292.8 219.6,293.3 221.5,294.8 223.1,294.6 225.7,294 227.9,292.4 229.8,293.2 231.1,293 232.8,292.2 233,293.2 231.7,294 232.2,295.2 231.6,296.5 232,297.5 232,299.2 231.2,300.7 230.8,301.6 229.8,303.6 229.2,305.2 228.7,306.4 228.2,308.1 227.3,309.3 226.6,310 225,310.6 223.1,310.6 221.5,310.8 220.6,310 219,309.3 217.1,309.2 215.8,309.5 214.5,309.3 212.9,310.3 210.7,311.4 207.8,310.6 204.7,309.7 201.5,309.3 198,309.2 197.3,307.9 194.1,307.7 191.6,306.8 191.3,305.6 187.8,304.8 184.9,305.2 181.7,307.1 181.2,310 182,311.9 180.1,312.9 178.2,313.2 175.7,312.2 172.5,310.9 169.9,310.1 167.4,309.2 166.4,307.1 163.9,306.1 160.4,304.8 157.2,305 154.3,304 153.1,303.6 152.7,302.6 151.1,302.4 149.7,301.3 151.1,299.7 152.9,297.8 152.9,296.2 151.5,295.4 151.3,293.8 152.7,292.4 152.9,291.5 151.1,292.2 150.5,292.2 150.2,291.1 149.1,290.7 147,291.1 145.1,291.9 142.9,292 141,291.4 138.1,291.6 135.9,292.4 133.9,292.4 130.8,292 127.4,292.4 124.7,293 121.8,293.3 118.7,294.4 116.7,295.4 114.5,296.2 112.9,297.3 110.7,297.8 108.3,297 106.9,297.5 105,297.3 102.7,297.5 100.8,295.7 100.2,295.2 98.9,295.6 98.3,297.2 97,299.7 95.9,301.2 93.5,302.6 90.6,303.6 88.2,306.4 88.1,307.7 86.5,309.3 86.3,312.1 87.1,313 86.2,315.1 84.9,316.7 82.3,318.1 79.5,320.2 76.6,320.7 75.3,322.5 74.7,324.4 71.8,326.1 70.6,328.5 69.6,331.4 67.1,333.8 66.4,335.9 65.1,338.5 63.7,340.7 63.4,343.4 64.8,342.6 65.8,344.9 66.1,346.8 65.1,348.1 66.4,350 66.7,352.6 65.8,355.8 65,359 63.9,361.2 62,363 63.2,364.1 64.4,365.7 64.5,367.3 64.2,369.2 64.5,370.6 66.1,371.8 67.4,372.7 69.3,374.6 70.9,376.2 72.2,377.7 74.1,379.6 75.3,381.4 75.7,383.1 76.6,384.9 78.2,386.5 81.1,388.1 83.3,390 86.2,392.1 89,394.2 91.9,395.6 93.8,396.3 96.7,395.1 99.9,394.2 103.4,393.5 107.5,393.9 109.7,394.3 111.3,395 113.9,393.9 116.7,392.6 119.6,391.6 121.5,390.7 125.3,389.9 128.5,389.7 131.4,390 133.6,391.5 134.9,393.9 136.8,396.4 140,396.1 143.2,395.8 144.8,395 146,395.8 147.3,397.4 148.3,397.5 148.9,399.3 149.2,400.9 148.9,402.8 148.3,406.3 147.8,408.6 147.3,410.8 145.6,412.3 146.7,414.3 148,417.2 149.9,419.5 151.8,421.4 153.4,423 155.4,425.4 156.4,427.8 156.9,429.4 158.5,432.3 159.4,435.2 160.1,437.4 159.7,439 160.4,440.9 161,443.2"/>
<polygon points="269.3,264.2 267.1,266.1 266.4,267.7 268.4,270 269,272.5 270.6,274.8 272.5,276.4 274.4,278.6 275.7,280.2 278.1,280.8 275.4,281.8 275,284 273.8,285.3 273.4,287.2 274.1,289.5 277.6,290.6 280.1,292.4 283.3,293 286.5,292.4 289.7,292 289.4,290.4 289.1,287.9 289.2,285.6 287.5,284 288.4,282.4 285.9,282.1 286.2,279.2 289.1,279.6 291.9,278.3 289.7,276 286.5,275.7 284.9,277.3 284.6,275.4 285.2,273.5 282.4,272.2 280.8,270.9 279.8,268.7 277.6,267.7 280.1,267.4 281.1,265.5 284.9,264.8 287.1,265.1 286.5,261.9 285.9,260 283.3,259.7 280.1,259.7 277,260.7 274.4,261.6 272.5,262.6 269.3,264.2"/>
<polygon points="303.4,267.4 303.4,264.8 305.6,263.2 307.5,261.9 310.4,261.3 312,261 313.9,261.9 313.6,264.2 312.6,266.4 311.3,268.3 308.8,270.3 306.3,270.6 304.3,270 303.4,267.4"/>
<polygon points="352.1,266.1 354,263.2 356.6,261 361.4,261 366.1,261.3 369.3,260.7 370,261.9 366.1,262.6 361.4,262.6 357.2,263.2 355.3,265.5 353.4,266.4 352.1,266.1"/>
<polygon points="360.4,274.3 362.9,273.3 366.8,273.3 367.4,274.4 364.5,275.2 361.7,275.1 360.4,274.3"/>
<polygon points="253.1,286.9 255.3,285.6 256.2,286.9 254.7,287.6 253.1,286.9"/>
<polygon points="261.7,291.1 261.3,288.5 262.9,287.9 263.9,290.1 262.9,291.4 261.7,291.1"/>
<polyline points="221.4,314.3 220.7,315.4 221.7,317.3 223.1,319.6 224.6,321.2 225.7,323.1 226.9,326.3 228.9,329.8 230.8,333.3 231.1,335.3 233.3,338.1 235.2,339.7 236.2,342.9 236,346.1 236.5,349 237.5,350.6 240.3,352.6 241.9,356.4 243.2,359.9 244.5,361.5 247.3,362.8 249.9,365.4 252.7,367.9 255,369.8 255.8,371.8 254,373 255.3,373.5 256.6,375 259.1,376.6 261.7,376.6 265.8,375.6 269.3,374.5 273.4,374 277.6,373 280.9,372.2 280.3,374.3 281.4,376.7 279.8,380.1 277.9,383 276.3,385.2 274.1,389.4 271.9,393.5 269,397.1 265.5,400.9 262,403.8 258.5,406.7 255.3,409.2 253.2,411.5 251.2,414 248.9,416.6 247,418.2 245.7,419.5 245.4,420.7 244.1,423.2 242.9,425.2 241.9,427.2 241.3,429.7 242.9,432 243.5,434.5 242.9,436.8 243.5,439 244.5,442.2 246.1,443.8"/>
<polyline points="221.5,314.3 222.5,316.7 223.4,318.6 225,320.2 226.8,321.3 227.4,320.2 228.2,317.7 229,315.6 228.7,317.7 228.1,320.2 229.8,320.5 231.4,322.6 234,326.3 236.2,329.8 237.8,332.4 240.3,334.3 241.9,337.2 242.4,341.3 244.1,344.2 246.7,346.5 248.9,349.4 250.8,352.6 252.7,355.8 254,358.3 254,361.5 254.7,363.8 255.6,367.3 256.2,369.5 258.5,369.7 261,369.2 264.2,367.3 268.4,366.6 272.2,365.4 274.7,363.4 278.5,361.8 282.7,360.6 284.3,358 287.5,356.6 291,355.6 293.8,353.8 297.3,352.6 299.2,349.7 301.8,349.4 301.5,346.8 302.1,344.9 304.3,344.5 305.6,341.7 308.2,338.5 306.9,337.5 304.7,334.6 301.2,333.8 298.6,332.1 297.3,330.1 297.3,326 296.4,326.8 296.1,327.9 293.8,329.3 291.3,331.7 288.4,333 285.2,332.9 282.4,333.3 281.7,331.4 282,329.2 281.7,327.3 280.9,326.5 279.7,328.2 279.5,330.8 277.9,328.9 277.3,326.3 277.4,324.7 275.7,323.4 273.4,321.5 272.5,319.6 271.5,317.7 270.6,316.2 269.8,316.1 270.9,315.3 272.2,314.3 273.6,313 275.7,314 277.6,313.8 279.5,316.7 279.8,318 281.4,320.7 284,321.8 285.5,322.8 288.1,324.5 291.3,325 293.8,324.4 297,323.3 299.2,324.2 299.9,327.3 301.8,328.1 305.6,328.9 310.4,329 313.9,329.7 316.8,329.5 319.9,329.3 323.5,329.5 326.6,329 329.2,328.5 330.1,330.6 332.1,332.4 334,334 335.6,334.9 338.1,337.2 341.6,336.7 340.6,338.1 337.8,338.5 337.5,339.1 339.4,340.9 341.9,343.3 344.2,343.9 347,342.6 347.7,340.7 348.9,338.9 348.9,341 349.6,342.9 349.9,345.2 349.4,348.1 349.9,349.7 350.5,352.9 351.5,356.4 352.8,360.2 354,363.1 355.3,366.6 356.6,369.8 358.5,373.4 360.1,376.9 361,379.8 362,382 363.6,383.8 364.7,384.3 366.4,383 366.8,381.4 369.3,380.4 369,379.4 370.6,377.2 372,377.2 372,374.3 371.9,371.8 373.1,369.2 373.5,367 372.8,364.1 372.8,361.2 374.7,359.4 376.3,358.3 379.8,357 379.8,355.8 383,353.5 385.6,351.6 388.1,348.7 390,347.1 392.9,346.3 394.2,344.5 394.8,342.3 396.7,341 398.6,340.4 400.8,341 403.4,340.4 405.3,340.1 406.3,337.8 408.5,337.8 410.1,338.8 410.7,341.7 411.7,343.9 413.6,345.8 415.8,347.8 417.1,349.7 418.4,352.6 418.7,355.8 417.7,359 420,359.6 421.5,359.8 423.5,358 426,356.4 427.3,355.8 428.6,357.4 428.9,359.6 429.5,362.2 430.1,365.4 431.4,368.6 432.1,371.8 432.1,375 431.4,378.2 431.1,381.4 430.6,383.9 432.1,384.2 433.7,385.9 435.2,388.1 437.2,390"/>
<polygon points="372.2,379.1 374.1,380.1 376.3,382.6 378.2,385.9 378.2,388.7 376.3,390.5 374.4,391.2 372.8,390.7 372,388.1 371.7,384.9 372.2,382 372.2,379.1"/>
<polyline points="421.2,392.3 424.1,393.2 427.6,393.5 429.8,395.8 432.1,398 434.9,399.9 437.5,401.9"/>
<polyline points="421.2,392.3 421.5,394.2 423.8,397.1 426.3,398.7 428.6,401.5 430.5,403.1 432.4,404.7 433.3,407.6 434.9,409.9 437.2,412.7 438.1,414.7"/>
<polyline points="422.8,401.2 424.7,402.5"/>
<polyline points="427.3,405.7 429.2,407.9"/>
<polyline points="430.8,410.5 431.7,411.8"/>
<polyline points="432.4,413.4 433.7,415.6"/>
<polyline points="434.9,416.9 436.5,419.1"/>
<polyline points="413.6,367 413.9,369.8 413.1,372.7"/>
<polyline points="412.3,375.6 412.6,376.6"/>
<polyline points="413.3,380.7 413.4,381"/>
<polyline points="415.5,384.6 415.8,384.9"/>
<polyline points="416.5,387.5 416.8,388.4"/>
<polygon points="60.4,318 61.2,318.9 60.7,318.6"/>
<polygon points="63.9,319.6 66.1,318.8 65.1,319.9"/>
<polygon points="67.4,320.4 68.7,320.2 68.3,321.2"/>
<polygon points="71.8,320.2 73.4,318.3 73.1,319.9"/>
<polygon points="73.7,317.3 74.7,316.7 74.7,317.5"/>
<polyline points="62.4,320.1 63.2,320.2"/>
<polyline points="62.9,305.2 64.5,305.5"/>
<polygon points="125.3,283.6 127.6,282.3 128.7,283.1 127.3,284.4 125.3,283.6"/>
<polyline points="129.8,282.1 131.4,282.4"/>
<polyline points="121.7,285.6 122.6,285"/>
<polygon points="145.1,274.4 147.3,272.5 148.1,275.1 147,277.6 145.4,276.5 145.1,274.4"/>
<polygon points="143.8,279.2 147,278.1 148.8,280.5 148.3,284.4 146.4,285 144.6,285.6 144.5,282.4 143.8,279.2"/>
<polygon points="157.4,288.8 160.1,287.9 163.9,288.4 167.4,287.7 166.1,290.4 165.8,292.7 163.2,291.7 160.4,290.8 157.8,289.8 157.4,288.8"/>
<polygon points="192.7,296.5 195.1,297 198.3,297.2 201.5,297.3 200.5,298.1 196.7,298.3 192.9,297.3 192.7,296.5"/>
<polygon points="220.6,298.1 222.5,297 225.7,296.8 227.9,296 226,298.1 222.8,299.4 220.6,298.1"/>
<polyline points="191,285.3 192.9,286.1 194.8,287.6 196.1,288.5 194.5,286.6 192.2,285.3"/>
<polyline points="200.5,284.7 202.1,285.2"/>
<polyline points="200.2,287.2 200.8,287.7"/>
<polyline points="202.7,289.3 203.5,289.5"/>
<polyline points="206.6,294 207.5,294.6"/>
<polyline points="198.3,291.6 199.1,291.4"/>
<polyline points="197,289 197.3,289.5"/>
<polyline points="197.6,282.4 198.6,282.6"/>
<polyline points="195.7,280 196.5,279.9"/>
<polyline points="180.4,282.9 181.2,283.9"/>
<polyline points="183,287.6 183.6,288.2"/>
<polyline points="183.6,289 184.3,289.3"/>
<polyline points="287.8,369.8 291.3,370"/>
<polyline points="294.1,324.9 296.7,323.9"/>
<polyline points="304.7,344.4 305.5,345.3"/>
<polyline points="242.7,428.8 243.5,430.7"/>
<polyline points="244.1,426.2 244.5,427.5"/>
<polyline points="244.1,434.8 244.6,435.8"/>
<polyline points="144.8,398.7 146,399.3"/>
<polyline points="138.6,409.2 138.9,409.9"/>
<polyline points="351.6,399.6 352,399.9"/>
<polyline points="71.8,435.5 72.2,435.8"/>
<polyline points="294.1,424.9 294.5,425.2"/>
<polygon points="218.7,413.1 219,417.5 222.2,418.2 224.1,417.2 225.7,414.3 226.3,411.5 225.7,409.5 222.8,408.9 220.3,410.2 218.7,413.1"/>
<polygon points="211.2,420.9 210.4,423.6 211.3,427.5 212.3,430.4 214.5,433.6 216.1,436.8 216.8,438.2 215.2,437.7 213.6,434.2 211.3,430.4 210.2,427.2 209.9,423.6 211.2,420.9"/>
<polyline points="226,440.9 227.9,440.8 228.2,443.2"/>
<polyline points="226,440.9 226.3,443.2"/>
<polygon points="232.7,395.8 232.4,398.7 234.3,402.2 234,398.7 232.7,395.8"/>
<polyline points="214.5,406.8 217.4,402.8"/>
<polyline points="211.7,410.5 212.3,412.1"/>
<polyline points="210.4,415.3 210.7,417.9"/>
<polygon points="159.4,365.7 160.4,364.1 162.3,363.8 163.2,365.4 162.6,367.3 160.7,367.6 159.4,365.7"/>
<polygon points="235.5,371.8 236.5,370.8 237.5,371.8 236.5,373 235.5,371.8"/>
</g>
<g class="rg">
<polygon points="85.8,266.1 85.8,230.9 455.3,230.9 455.3,266.1" fill="none"/>
<polygon points="34.9,314.1 34.9,230.9 85.8,230.9 85.8,314.1" fill="none"/>
<polygon points="85.8,314.1 85.8,266.1 245.1,266.1 245.1,314.1" fill="none"/>
<polygon points="245.1,314.1 245.1,266.1 356.6,266.1 356.6,314.1 308.8,314.1 308.8,335.6 269.3,314.1" fill="none"/>
<polygon points="356.6,291.7 356.6,266.1 455.3,266.1 455.3,291.7" fill="none"/>
<polygon points="356.6,314.1 356.6,291.7 455.3,291.7 455.3,307.7 436.2,314.1 398,326.9" fill="none"/>
<polygon points="34.9,363.1 34.9,314.1 222.8,314.1 251.8,363.1" fill="none"/>
<polygon points="222.8,314.1 269.3,314.1 308.8,335.6 308.8,345.2 286.5,362.2 256.9,371.8" fill="none"/>
<polygon points="34.9,381 34.9,363.1 165.5,363.1 143.2,410.2" fill="none"/>
<polygon points="34.9,461.4 34.9,381 143.2,410.2 143.2,461.4" fill="none"/>
<polygon points="143.2,410.2 165.5,363.1 203.7,363.1 203.7,461.4 143.2,461.4" fill="none"/>
<polygon points="203.7,402.8 203.7,363.1 251.8,363.1 256.9,371.8 286.5,362.2 286.5,387.8 265.8,402.8" fill="none"/>
<polygon points="203.7,461.4 203.7,402.8 265.8,402.8 265.8,461.4" fill="none"/>
<polygon points="286.5,387.8 286.5,362.2 308.8,345.2 308.8,335.6 329.8,335.6 341.6,348.4 357.2,387.8" fill="none"/>
<polygon points="308.8,335.6 308.8,314.1 356.6,314.1 398,326.9 436.2,314.1 455.3,307.7 455.3,348.1 393.2,348.1 370.3,387.8 357.2,387.8 341.6,348.4 329.8,335.6" fill="none"/>
<polygon points="370.3,387.8 393.2,348.1 413.9,348.1 413.9,387.8" fill="none"/>
<polygon points="413.9,348.1 455.3,348.1 455.3,461.4 413.9,461.4" fill="none"/>
<polygon points="265.8,461.4 265.8,402.8 286.5,387.8 413.9,387.8 413.9,461.4" fill="none"/>
<polyline points="245.1,266.1 245.1,230.9" fill="none" stroke="#1a1a1a" stroke-width="1.25"/>
<polyline points="308.8,266.1 308.8,230.9" fill="none" stroke="#1a1a1a" stroke-width="1.25"/>
<polyline points="404.4,266.1 404.4,230.9" fill="none" stroke="#1a1a1a" stroke-width="1.25"/>
<polyline points="85.8,255.9 111.3,250.1 136.8,244.3" fill="none" stroke="#1a1a1a" stroke-width="1.25"/>
</g>
<g class="b" font-size="10.5" text-anchor="middle">
<text x="174.4" y="301.8">MED</text>
<text x="98.9" y="333.5">SAH</text>
<text x="92.2" y="379.6">WAF</text>
<text x="184.9" y="418.7">CAF</text>
<text x="246.4" y="396">NEAF</text>
<text x="218" y="425.7">SEAF</text>
<text x="318.7" y="362">ARS</text>
<text x="393.2" y="368.7">BOB</text>
<text x="338.2" y="296.8">WCA</text>
<text x="396.3" y="308.2">TIB</text>
<text x="264.2" y="331.6">ARP</text>
<text x="366.1" y="336.4">SAS</text>
</g>
</g>
<path d="M59.5 250.1H54V442.2H436.2V436.7" fill="none" stroke="#1a1a1a" stroke-width="1.3"/>
<g class="b" font-size="16" stroke="#111" stroke-width=".25">
<text transform="translate(46.3,256.9) scale(0.915,1)" text-anchor="end">50</text>
<text transform="translate(46.3,288.9) scale(0.915,1)" text-anchor="end">40</text>
<text transform="translate(46.3,320.9) scale(0.915,1)" text-anchor="end">30</text>
<text transform="translate(46.3,352.9) scale(0.915,1)" text-anchor="end">20</text>
<text transform="translate(46.3,384.9) scale(0.915,1)" text-anchor="end">10</text>
<text transform="translate(46.3,416.9) scale(0.915,1)" text-anchor="end">0</text>
<text transform="translate(46.3,449) scale(0.915,1)" text-anchor="end">-10</text>
<text transform="translate(54.1,462.5) scale(0.915,1)" text-anchor="middle">-20</text>
<text transform="translate(117.7,462.5) scale(0.915,1)" text-anchor="middle">0</text>
<text transform="translate(181.4,462.5) scale(0.915,1)" text-anchor="middle">20</text>
<text transform="translate(245.1,462.5) scale(0.915,1)" text-anchor="middle">40</text>
<text transform="translate(308.8,462.5) scale(0.915,1)" text-anchor="middle">60</text>
<text transform="translate(372.5,462.5) scale(0.915,1)" text-anchor="middle">80</text>
<text transform="translate(436.2,462.5) scale(0.915,1)" text-anchor="middle">100</text>
</g>
<g class="mk">
<circle cx="188.9" cy="289.9" r="5.2" fill="#fff"/>
<circle cx="222.2" cy="282.5" r="5.2" fill="#fff"/>
<circle cx="213.8" cy="310.4" r="5.2" fill="#fff"/>
<polygon points="211.3,318.6 224.3,318.6 217.8,307" fill="#f7df8e"/>
<polygon points="253.7,280 266.7,280 260.2,268.4" fill="#f7df8e"/>
<circle cx="259.5" cy="281.4" r="5.2" fill="#fff"/>
<polygon points="258.1,284.1 271.1,284.1 264.6,295.7" fill="#5da5d2"/>
<circle cx="258.4" cy="303.2" r="5.2" fill="#fff"/>
<circle cx="317.9" cy="269.7" r="5.2" fill="#fff"/>
<polygon points="297.8,284.3 310.8,284.3 304.3,295.9" fill="#8fcbe1"/>
<polygon points="301.2,290.7 314.2,290.7 307.7,302.3" fill="#cde7ed"/>
<circle cx="282.1" cy="329.2" r="5.2" fill="#fff"/>
<circle cx="292" cy="331.7" r="5.2" fill="#fff"/>
<polygon points="61.1,356.7 74.1,356.7 67.6,345.1" fill="#dc2c2e"/>
<polygon points="58.5,371.4 71.5,371.4 65,359.8" fill="#a30d2d"/>
<polygon points="107.1,374.7 120.1,374.7 113.6,363.1" fill="#ec6f4b"/>
<circle cx="165.9" cy="371.1" r="5.2" fill="#fff"/>
<polygon points="170.5,400 183.5,400 177,388.4" fill="#a30d2d"/>
<polygon points="353,313.4 366,313.4 359.5,325" fill="#2f3f97"/>
<circle cx="363.2" cy="318.5" r="5.2" fill="#fff"/>
<polygon points="364.4,322.8 377.4,322.8 370.9,311.2" fill="#dc2c2e"/>
<circle cx="335.6" cy="328.9" r="5.2" fill="#fff"/>
<circle cx="343.7" cy="324.1" r="5.2" fill="#fff"/>
<circle cx="350.4" cy="326" r="5.2" fill="#fff"/>
<circle cx="375" cy="323.9" r="5.2" fill="#fff"/>
<circle cx="383.8" cy="325" r="5.2" fill="#fff"/>
<polygon points="372.8,325.3 385.8,325.3 379.3,336.9" fill="#2f3f97"/>
<circle cx="375.3" cy="331.3" r="5.2" fill="#fff"/>
<polygon points="360.7,329.4 373.7,329.4 367.2,317.8" fill="#ec6f4b"/>
<polygon points="352.8,333.4 365.8,333.4 359.3,321.8" fill="#ec6f4b"/>
<circle cx="388.1" cy="330.5" r="5.2" fill="#fff"/>
<circle cx="392.3" cy="336.2" r="5.2" fill="#fff"/>
<circle cx="399.9" cy="337.3" r="5.2" fill="#fff"/>
<polygon points="384.8,349.5 397.8,349.5 391.3,337.9" fill="#ec6f4b"/>
<polygon points="403,330.2 416,330.2 409.5,318.6" fill="#ec6f4b"/>
<polygon points="411.3,335 424.3,335 417.8,323.4" fill="#a30d2d"/>
<polygon points="402.8,337.9 415.8,337.9 409.3,326.3" fill="#dc2c2e"/>
<polygon points="344.4,332.5 357.4,332.5 350.9,344.1" fill="#8fcbe1"/>
<circle cx="342.8" cy="338.5" r="5.2" fill="#fff"/>
<polygon points="343.4,346.7 356.4,346.7 349.9,335.1" fill="#f4a562"/>
<polygon points="357.2,347.9 370.2,347.9 363.7,336.3" fill="#a30d2d"/>
<circle cx="359.4" cy="353.5" r="5.2" fill="#fff"/>
<circle cx="356.5" cy="367.9" r="5.2" fill="#fff"/>
<circle cx="358.9" cy="373.9" r="5.2" fill="#fff"/>
<circle cx="373" cy="367.9" r="5.2" fill="#fff"/>
<polygon points="362.3,371.6 375.3,371.6 368.8,383.2" fill="#5da5d2"/>
<polygon points="357,387.2 370,387.2 363.5,375.6" fill="#f4a562"/>
</g>
<clipPath id="c2"><rect x="50.8" y="547" width="387.3" height="194.4"/></clipPath>
<g clip-path="url(#c2)">
<g class="rg" stroke="none">
<polygon points="83.1,563.2 83.1,527.6 457.5,527.6 457.5,563.2" fill="#e7e8e8" style="stroke:none"/>
<polygon points="31.4,611.8 31.4,527.6 83.1,527.6 83.1,611.8" fill="#b9d7ee" style="stroke:none"/>
<polygon points="83.1,611.8 83.1,563.2 244.4,563.2 244.4,611.8" fill="#c5c8c8" style="stroke:none"/>
<polygon points="244.4,611.8 244.4,563.2 357.4,563.2 357.4,611.8 309,611.8 309,633.5 269,611.8" fill="#c5c8c8" style="stroke:none"/>
<polygon points="357.4,589.1 357.4,563.2 457.5,563.2 457.5,589.1" fill="#c5c8c8" style="stroke:none"/>
<polygon points="357.4,611.8 357.4,589.1 457.5,589.1 457.5,605.3 438.1,611.8 399.4,624.8" fill="#c9cccc" style="stroke:none"/>
<polygon points="31.4,661.4 31.4,611.8 221.9,611.8 251.2,661.4" fill="#aeb1b2" style="stroke:none"/>
<polygon points="221.9,611.8 269,611.8 309,633.5 309,643.2 286.4,660.4 256.4,670.1" fill="#aeb1b2" style="stroke:none"/>
<polygon points="31.4,679.5 31.4,661.4 163.8,661.4 141.2,709" fill="#b3b6b7" style="stroke:none"/>
<polygon points="31.4,760.8 31.4,679.5 141.2,709 141.2,760.8" fill="#b9d7ee" style="stroke:none"/>
<polygon points="141.2,709 163.8,661.4 202.5,661.4 202.5,760.8 141.2,760.8" fill="#b1b4b5" style="stroke:none"/>
<polygon points="202.5,701.5 202.5,661.4 251.2,661.4 256.4,670.1 286.4,660.4 286.4,686.3 265.4,701.5" fill="#b1b4b5" style="stroke:none"/>
<polygon points="202.5,760.8 202.5,701.5 265.4,701.5 265.4,760.8" fill="#b1b4b5" style="stroke:none"/>
<polygon points="286.4,686.3 286.4,660.4 309,643.2 309,633.5 330.3,633.5 342.2,646.5 358.1,686.3" fill="#b9d7ee" style="stroke:none"/>
<polygon points="309,633.5 309,611.8 357.4,611.8 399.4,624.8 438.1,611.8 457.5,605.3 457.5,646.1 394.5,646.1 371.3,686.3 358.1,686.3 342.2,646.5 330.3,633.5" fill="#adb0b1" style="stroke:none"/>
<polygon points="371.3,686.3 394.5,646.1 415.5,646.1 415.5,686.3" fill="#b9d7ee" style="stroke:none"/>
<polygon points="415.5,646.1 457.5,646.1 457.5,760.8 415.5,760.8" fill="#b3b6b7" style="stroke:none"/>
<polygon points="265.4,760.8 265.4,701.5 286.4,686.3 415.5,686.3 415.5,760.8" fill="#b9d7ee" style="stroke:none"/>
</g>
<g class="cs">
<polyline points="120.5,546.4 118.6,547.3 116,548 115.7,548.8 114.1,549.3 111.8,549.1 111.2,548.3 109.2,548 110.2,549.6 110.5,551.2 108.9,551.4 106.6,551.7 105.3,550.7 102.8,551.2 100,552 101.5,552.5 100.5,553.3 101.5,554.1 104.4,554.5 106.6,555.1 107.6,555.9 108.9,556.4 108.6,557.4 110.5,558.8 111.8,559.6 111.5,560.9 112.8,561.9 111.6,561.6 111.5,564.2 110.8,566.8 110.2,568.4 109.5,568.4 107,568.4 104.1,568.1 100.8,568.4 97,567.7 92.8,567.9 89.9,567.2 88.2,568.4 85.7,569.2 86,570.7 86.9,571.9 86.8,573.2 87.3,575.5 87.3,577.5 86.6,579.1 85,581.5 84.7,583.5 85.8,583.8 85.7,584.6 87.1,584.4 86.9,586.2 86.8,587.8 86.3,589.1 88.6,588.8 90.5,589.1 92.8,588.5 94.7,589.4 95.3,591.1 97,592.2 98.1,591.9 99.9,590.7 101.5,590.1 104.1,590.1 107,589.9 108.6,589.9 109.5,588.5 111.2,587.3 113.1,587.2 113.1,585.9 114.4,584.4 116,583.5 115,582.6 114.4,581 115.3,579.4 117.3,577.5 118.3,577 119.2,575.8 122.5,575 125.4,573.4 125.8,571.9 125,571 125.2,569.4 127,568.4 128.9,568.1 130.8,568.5 132.8,568.7 135,569.5 137,569 138.9,567.4 141.5,566.6 143.8,565.1 146,565.8 148.3,566.9 149.2,569.7 151.2,571.6 153.4,572.8 155,573.9 156.3,574.9 159.2,575.4 160.9,576.6 162.1,577.5 163.8,578.3 165.9,579.2 166.7,581 167.5,583 166.5,583.9 165.9,585.6 166.2,586 167.5,585.9 168.8,584.6 168.9,583.3 170.7,582.6 170.5,581.3 168.8,580.4 168.9,579.1 169.9,577.9 171.2,578.1 173.1,578.8 174.6,580 175.1,578.9 173.4,577.3 170.2,576 167,574.7 166.7,574.1 167.6,573.4 166.7,573.1 164.4,573.1 162.8,572.4 161.2,571.3 160.1,569.7 159.1,567.9 157,566.6 155.4,565.6 155,563.8 155.4,563.2 154.7,562.1 156.3,561.4 158,560.8 159.6,560.9 159.1,561.7 159.2,563.2 160.2,563.8 161.3,562.6 162.1,562.2 163.4,563.2 163.8,564.7 165.1,565.8 166.8,567.4 168.6,568.1 170.9,569.2 172.5,570 174.4,571.1 175.7,571.6 177.2,572.9 178.4,574.1 178.1,575.5 178,577.5 177.8,578.3 179.6,579.7 180.4,580.9 182.2,582.6 182.8,583.5 183.5,584.7 185.1,584.9 187,584.7 189.3,585.9 187.3,585.2 185.4,585.2 184.1,586 184.1,587.2 185.2,588.5 185.4,589.8 186.2,589.8 186.8,589.1 187.6,590.9 188.3,589.8 189.7,590.6 190.2,590.9 189.6,589.1 188.9,587.7 190.2,588 191.2,587.5 190.1,586.2 191.5,586.2 193,587 193,585.4 191.5,584.3 189.6,583.1 188.9,583.1 190.6,582 189.4,581.5 189.1,580.4 188.3,579.4 188.5,577.9 189.3,577.5 190.6,578.6 191.8,579.6 191,578.6 192.6,579.6 192,578.4 194.1,578.9 192.5,577.9 191.8,577.1 193.8,576.6 196,576.3 198.9,576.6 199.4,577.3 201.8,577.5 199.9,578.4 199.9,579.2 201.5,577.9 203.5,577.1 204.4,576.2 206.4,576 208.9,576.2 209.1,575.4 206,574.2 205.7,572.9 204.4,571.5 205.4,570.3 205.6,569 207.5,568.4 207.7,567.1 207.8,565.5 208.8,564.2 211,563.5 211,562.1 212.8,560.4 214.6,558.7 216,558 218.3,558 219,559.3 220.9,560 223.5,559.8 223.8,560.4 220.2,562.1 223.1,562.7 223.1,564.5 224.3,565.1 226.4,564.7 228.6,563.7 229.9,562.9 233,563 233.5,561.9 229.9,562.2 228.3,561.1 227.7,559.5 229.4,558.8 231.2,557.9 234.1,557.5 236.7,556.4 239,556.1 242,555.9 239.9,557.2 238.3,557.9 237.7,559.8 238.6,560.3 237,561.9 234.1,561.9 233.5,562.7 235.7,564 237.3,564.2 239.9,565.5 241.9,566.6 243.8,568.1 245.7,569.2 247.7,569.7 249.3,571.6 249.8,573.2 249.3,574.5 246.1,576 243.2,576 239.6,576.3 237.7,576 234.8,575.5 232.7,575.2 231.5,573.9 229,573.9 228.6,572.9 225.1,573 221.9,573.2 219.3,573.9 216.7,575.2 213.5,575.7 209.6,575.5 209.1,576 211.9,577 208.6,577.3 208.9,578.1 205.7,578.1 204.4,578.3 202.5,578.1 200.6,578.9 199.7,579.6 199.6,581 202.2,580.9 201.5,581.8 202.5,582.8 201.8,583.6 200.4,583.8 201.2,584.6 202.8,584.4 201.5,584.9 200.2,585.1 201.5,585.7 203.3,586 203.1,587.8 204.1,588.8 203.5,589.1 206.4,589.1 203.8,590.1 205.7,590.4 206.7,589.6 208.6,590.1 209.4,590.4 209.9,591.5 211.5,591.9 213.5,591.5 214.1,589.8 215.4,589.6 217.3,590.3 218.6,590.7 220.6,592.2 222.2,592 224.8,591.4 227,589.8 229,590.6 230.2,590.4 232,589.6 232.2,590.6 230.9,591.4 231.4,592.7 230.7,594 231.2,595 231.2,596.7 230.4,598.2 229.9,599.2 229,601.1 228.3,602.7 227.8,604 227.3,605.6 226.4,606.9 225.7,607.6 224.1,608.2 222.2,608.2 220.6,608.4 219.6,607.6 218,606.9 216,606.8 214.8,607.1 213.5,606.9 211.9,607.9 209.6,609 206.7,608.2 203.5,607.3 200.2,606.9 196.7,606.8 196,605.5 192.8,605.3 190.2,604.3 189.9,603.2 186.4,602.4 183.5,602.7 180.2,604.7 179.7,607.6 180.5,609.5 178.6,610.5 176.7,610.8 174.1,609.9 170.9,608.6 168.3,607.8 165.7,606.8 164.7,604.7 162.1,603.7 158.6,602.4 155.4,602.6 152.5,601.6 151.2,601.1 150.9,600.1 149.2,600 147.8,598.8 149.2,597.2 151,595.3 151,593.7 149.6,592.8 149.4,591.2 150.9,589.8 151,588.9 149.2,589.6 148.6,589.6 148.3,588.5 147.1,588.1 145,588.5 143.1,589.3 140.8,589.4 138.9,588.8 136,589 133.7,589.8 131.8,589.8 128.6,589.4 125.2,589.8 122.5,590.4 119.5,590.7 116.3,591.9 114.4,592.8 112.1,593.7 110.5,594.8 108.2,595.3 105.8,594.5 104.4,595 102.4,594.8 100.2,595 98.2,593.2 97.6,592.7 96.3,593 95.7,594.6 94.4,597.2 93.2,598.7 90.8,600.1 87.9,601.1 85.5,604 85.3,605.3 83.7,606.9 83.6,609.7 84.4,610.7 83.4,612.8 82.1,614.4 79.5,615.9 76.6,618 73.7,618.4 72.4,620.2 71.8,622.2 68.9,624 67.6,626.4 66.6,629.3 64,631.7 63.4,633.8 62.1,636.4 60.6,638.7 60.3,641.4 61.8,640.6 62.7,642.9 63.1,644.8 62.1,646.1 63.4,648.1 63.7,650.7 62.7,653.9 61.9,657.2 60.8,659.4 58.9,661.2 60.2,662.3 61.3,664 61.5,665.6 61.1,667.5 61.5,669 63.1,670.1 64.4,671.1 66.3,673 67.9,674.7 69.2,676.1 71.1,678.1 72.4,679.8 72.7,681.6 73.7,683.4 75.3,685 78.2,686.6 80.5,688.6 83.4,690.7 86.3,692.8 89.2,694.3 91.1,694.9 94,693.8 97.3,692.8 100.8,692.2 105,692.5 107.3,693 108.9,693.6 111.5,692.5 114.4,691.2 117.3,690.2 119.2,689.2 123.1,688.4 126.3,688.3 129.2,688.6 131.5,690 132.8,692.5 134.7,695.1 137.9,694.7 141.2,694.4 142.8,693.6 144.1,694.4 145.4,696 146.3,696.2 147,698 147.3,699.6 147,701.5 146.3,705.1 145.8,707.4 145.4,709.6 143.6,711.1 144.7,713.2 146,716.1 147.9,718.4 149.9,720.3 151.5,722 153.6,724.4 154.6,726.8 155,728.4 156.7,731.4 157.6,734.3 158.3,736.5 158,738.2 158.6,740.1 159.2,742.4"/>
<polygon points="269,561.3 266.7,563.2 266.1,564.8 268,567.1 268.7,569.7 270.3,571.9 272.2,573.6 274.1,575.8 275.4,577.5 277.9,578.1 275.1,579.1 274.8,581.3 273.5,582.6 273.2,584.6 273.8,586.9 277.4,588 280,589.8 283.2,590.4 286.4,589.8 289.6,589.4 289.3,587.8 289,585.2 289.2,583 287.4,581.3 288.3,579.7 285.8,579.4 286.1,576.5 289,576.8 291.9,575.5 289.6,573.2 286.4,572.9 284.8,574.5 284.5,572.6 285.1,570.7 282.2,569.4 280.6,568.1 279.6,565.8 277.4,564.8 280,564.5 280.9,562.6 284.8,561.9 287.1,562.2 286.4,559 285.8,557 283.2,556.7 280,556.7 276.7,557.7 274.1,558.7 272.2,559.6 269,561.3"/>
<polygon points="303.5,564.5 303.5,561.9 305.8,560.3 307.7,559 310.6,558.3 312.2,558 314.2,559 313.8,561.3 312.9,563.5 311.6,565.5 309,567.4 306.4,567.7 304.5,567.1 303.5,564.5"/>
<polygon points="352.9,563.2 354.8,560.3 357.4,558 362.3,558 367.1,558.3 370.3,557.7 371,559 367.1,559.6 362.3,559.6 358.1,560.3 356.1,562.6 354.2,563.5 352.9,563.2"/>
<polygon points="361.3,571.5 363.9,570.5 367.7,570.5 368.4,571.6 365.5,572.4 362.6,572.3 361.3,571.5"/>
<polygon points="252.5,584.3 254.8,583 255.7,584.3 254.1,584.9 252.5,584.3"/>
<polygon points="261.2,588.5 260.9,585.9 262.5,585.2 263.5,587.5 262.5,588.8 261.2,588.5"/>
<polyline points="220.4,612 219.8,613.1 220.7,615 222.2,617.3 223.6,618.9 224.8,620.9 226.1,624.1 228,627.7 229.9,631.2 230.2,633.2 232.5,636.1 234.4,637.7 235.4,641 235.3,644.2 235.7,647.1 236.7,648.7 239.6,650.7 241.2,654.6 242.5,658.1 243.8,659.8 246.7,661 249.3,663.6 252.2,666.2 254.5,668.2 255.3,670.1 253.5,671.4 254.8,671.9 256.1,673.4 258.7,675 261.2,675 265.4,674 269,672.9 273.2,672.4 277.4,671.4 280.8,670.6 280.1,672.7 281.2,675.1 279.6,678.5 277.7,681.5 276.1,683.7 273.8,687.9 271.6,692.2 268.7,695.7 265.1,699.6 261.6,702.5 258,705.4 254.8,708 252.7,710.3 250.6,712.9 248.3,715.5 246.4,717.1 245.1,718.4 244.8,719.7 243.5,722.1 242.2,724.2 241.2,726.2 240.6,728.8 242.2,731 242.8,733.6 242.2,735.9 242.8,738.2 243.8,741.4 245.4,743"/>
<polyline points="220.6,612 221.5,614.4 222.5,616.3 224.1,618 225.9,619.1 226.5,618 227.3,615.4 228.2,613.3 227.8,615.4 227.2,618 229,618.3 230.6,620.4 233.2,624.1 235.4,627.7 237,630.3 239.6,632.2 241.2,635.1 241.7,639.3 243.5,642.3 246.1,644.5 248.3,647.4 250.3,650.7 252.2,653.9 253.5,656.5 253.5,659.8 254.1,662 255.1,665.6 255.7,667.9 258,668 260.6,667.5 263.8,665.6 268,664.9 271.9,663.6 274.5,661.7 278.3,660.1 282.5,658.8 284.1,656.2 287.4,654.7 290.9,653.8 293.8,652 297.4,650.7 299.3,647.8 301.9,647.4 301.6,644.8 302.2,642.9 304.5,642.6 305.8,639.7 308.4,636.4 307.1,635.5 304.8,632.5 301.3,631.7 298.7,629.9 297.4,628 297.4,623.8 296.4,624.6 296.1,625.7 293.8,627.2 291.2,629.6 288.3,630.9 285.1,630.8 282.2,631.2 281.6,629.3 281.9,627 281.6,625.1 280.8,624.3 279.5,626.1 279.3,628.6 277.7,626.7 277,624.1 277.2,622.5 275.4,621.2 273.2,619.3 272.2,617.3 271.2,615.4 270.3,613.9 269.5,613.7 270.6,612.9 271.9,612 273.3,610.7 275.4,611.6 277.4,611.5 279.3,614.4 279.6,615.7 281.2,618.4 283.8,619.6 285.4,620.5 288,622.3 291.2,622.8 293.8,622.2 297.1,621 299.3,622 300,625.1 301.9,625.9 305.8,626.7 310.6,626.9 314.2,627.5 317.1,627.4 320.3,627.2 323.8,627.4 327.1,626.9 329.7,626.4 330.6,628.5 332.6,630.3 334.5,631.9 336.1,632.9 338.7,635.1 342.2,634.6 341.3,636.1 338.4,636.4 338,637.1 340,638.9 342.6,641.3 344.8,641.9 347.7,640.6 348.4,638.7 349.7,636.9 349.7,639 350.3,641 350.6,643.2 350.2,646.1 350.6,647.8 351.3,651 352.2,654.6 353.5,658.5 354.8,661.4 356.1,664.9 357.4,668.2 359.3,671.7 361,675.3 361.9,678.2 362.9,680.5 364.5,682.3 365.6,682.8 367.4,681.5 367.7,679.8 370.3,678.9 370,677.9 371.6,675.6 373.1,675.6 373.1,672.7 372.9,670.1 374.2,667.5 374.5,665.3 373.9,662.3 373.9,659.4 375.8,657.6 377.4,656.5 381,655.2 381,653.9 384.2,651.7 386.8,649.7 389.4,646.8 391.3,645.2 394.2,644.4 395.5,642.6 396.1,640.3 398.1,639 400,638.4 402.3,639 404.9,638.4 406.8,638 407.8,635.8 410,635.8 411.6,636.7 412.3,639.7 413.2,641.9 415.2,643.9 417.4,645.8 418.7,647.8 420,650.7 420.3,653.9 419.4,657.2 421.6,657.8 423.3,658 425.2,656.2 427.8,654.6 429.1,653.9 430.4,655.5 430.7,657.8 431.3,660.4 432,663.6 433.3,666.9 433.9,670.1 433.9,673.4 433.3,676.6 432.9,679.8 432.5,682.4 433.9,682.8 435.5,684.4 437.1,686.6 439.1,688.6"/>
<polygon points="373.2,677.6 375.2,678.5 377.4,681.1 379.4,684.4 379.4,687.3 377.4,689.1 375.5,689.8 373.9,689.2 373.1,686.6 372.7,683.4 373.2,680.5 373.2,677.6"/>
<polyline points="422.9,690.9 425.8,691.8 429.4,692.2 431.6,694.4 433.9,696.7 436.8,698.6 439.4,700.6"/>
<polyline points="422.9,690.9 423.3,692.8 425.5,695.7 428.1,697.3 430.4,700.3 432.3,701.9 434.2,703.5 435.2,706.4 436.8,708.7 439.1,711.6 440,713.5"/>
<polyline points="424.5,699.9 426.5,701.2"/>
<polyline points="429.1,704.5 431,706.7"/>
<polyline points="432.6,709.3 433.6,710.6"/>
<polyline points="434.2,712.2 435.5,714.5"/>
<polyline points="436.8,715.8 438.4,718.1"/>
<polyline points="415.2,665.3 415.5,668.2 414.7,671.1"/>
<polyline points="413.9,674 414.2,675"/>
<polyline points="414.9,679.2 415,679.5"/>
<polyline points="417.1,683.1 417.4,683.4"/>
<polyline points="418.1,686 418.4,687"/>
<polygon points="57.3,615.7 58.1,616.7 57.6,616.3"/>
<polygon points="60.8,617.3 63.1,616.5 62.1,617.6"/>
<polygon points="64.4,618.1 65.6,618 65.3,618.9"/>
<polygon points="68.9,618 70.5,616 70.2,617.6"/>
<polygon points="70.8,615 71.8,614.4 71.8,615.2"/>
<polyline points="59.4,617.8 60.2,618"/>
<polyline points="59.8,602.7 61.5,603.1"/>
<polygon points="123.1,580.9 125.4,579.6 126.5,580.4 125,581.7 123.1,580.9"/>
<polyline points="127.6,579.4 129.2,579.7"/>
<polyline points="119.4,583 120.4,582.3"/>
<polygon points="143.1,571.6 145.4,569.7 146.2,572.3 145,574.9 143.4,573.7 143.1,571.6"/>
<polygon points="141.8,576.5 145,575.4 146.8,577.8 146.3,581.7 144.4,582.3 142.6,583 142.5,579.7 141.8,576.5"/>
<polygon points="155.5,586.2 158.3,585.2 162.1,585.7 165.7,585.1 164.4,587.8 164.1,590.1 161.5,589.1 158.6,588.1 156,587.2 155.5,586.2"/>
<polygon points="191.4,594 193.8,594.5 197,594.6 200.2,594.8 199.3,595.6 195.4,595.8 191.5,594.8 191.4,594"/>
<polygon points="219.6,595.6 221.5,594.5 224.8,594.3 227,593.5 225.1,595.6 221.9,596.9 219.6,595.6"/>
<polyline points="189.6,582.6 191.5,583.5 193.5,584.9 194.7,585.9 193.1,583.9 190.9,582.6"/>
<polyline points="199.3,582 200.9,582.5"/>
<polyline points="198.9,584.6 199.6,585.1"/>
<polyline points="201.5,586.7 202.3,586.9"/>
<polyline points="205.4,591.4 206.4,592"/>
<polyline points="197,589 197.8,588.8"/>
<polyline points="195.7,586.4 196,586.9"/>
<polyline points="196.4,579.7 197.3,579.9"/>
<polyline points="194.4,577.3 195.2,577.1"/>
<polyline points="178.9,580.2 179.7,581.2"/>
<polyline points="181.5,584.9 182.2,585.6"/>
<polyline points="182.2,586.4 182.8,586.7"/>
<polyline points="287.7,668.2 291.2,668.3"/>
<polyline points="294.2,622.7 296.7,621.7"/>
<polyline points="304.8,642.4 305.6,643.4"/>
<polyline points="242,727.8 242.8,729.7"/>
<polyline points="243.5,725.2 243.8,726.5"/>
<polyline points="243.5,733.9 244,734.9"/>
<polyline points="142.8,697.3 144.1,698"/>
<polyline points="136.5,708 136.8,708.7"/>
<polyline points="352.4,698.3 352.7,698.6"/>
<polyline points="68.9,734.6 69.2,734.9"/>
<polyline points="294.2,723.9 294.5,724.2"/>
<polygon points="217.7,711.9 218,716.5 221.2,717.1 223.1,716.1 224.8,713.2 225.4,710.3 224.8,708.4 221.9,707.7 219.3,709 217.7,711.9"/>
<polygon points="210.1,719.9 209.3,722.6 210.2,726.5 211.2,729.4 213.5,732.7 215.1,735.9 215.7,737.4 214.1,736.9 212.5,733.3 210.2,729.4 209.1,726.2 208.8,722.6 210.1,719.9"/>
<polyline points="225.1,740.1 227,739.9 227.3,742.4"/>
<polyline points="225.1,740.1 225.4,742.4"/>
<polygon points="231.9,694.4 231.5,697.3 233.5,700.9 233.2,697.3 231.9,694.4"/>
<polyline points="213.5,705.6 216.4,701.5"/>
<polyline points="210.6,709.3 211.2,710.9"/>
<polyline points="209.3,714.2 209.6,716.8"/>
<polygon points="157.6,664 158.6,662.3 160.5,662 161.5,663.6 160.9,665.6 158.9,665.9 157.6,664"/>
<polygon points="234.8,670.1 235.7,669.1 236.7,670.1 235.7,671.4 234.8,670.1"/>
</g>
<g class="rg">
<polygon points="83.1,563.2 83.1,527.6 457.5,527.6 457.5,563.2" fill="none"/>
<polygon points="31.4,611.8 31.4,527.6 83.1,527.6 83.1,611.8" fill="none"/>
<polygon points="83.1,611.8 83.1,563.2 244.4,563.2 244.4,611.8" fill="none"/>
<polygon points="244.4,611.8 244.4,563.2 357.4,563.2 357.4,611.8 309,611.8 309,633.5 269,611.8" fill="none"/>
<polygon points="357.4,589.1 357.4,563.2 457.5,563.2 457.5,589.1" fill="none"/>
<polygon points="357.4,611.8 357.4,589.1 457.5,589.1 457.5,605.3 438.1,611.8 399.4,624.8" fill="none"/>
<polygon points="31.4,661.4 31.4,611.8 221.9,611.8 251.2,661.4" fill="none"/>
<polygon points="221.9,611.8 269,611.8 309,633.5 309,643.2 286.4,660.4 256.4,670.1" fill="none"/>
<polygon points="31.4,679.5 31.4,661.4 163.8,661.4 141.2,709" fill="none"/>
<polygon points="31.4,760.8 31.4,679.5 141.2,709 141.2,760.8" fill="none"/>
<polygon points="141.2,709 163.8,661.4 202.5,661.4 202.5,760.8 141.2,760.8" fill="none"/>
<polygon points="202.5,701.5 202.5,661.4 251.2,661.4 256.4,670.1 286.4,660.4 286.4,686.3 265.4,701.5" fill="none"/>
<polygon points="202.5,760.8 202.5,701.5 265.4,701.5 265.4,760.8" fill="none"/>
<polygon points="286.4,686.3 286.4,660.4 309,643.2 309,633.5 330.3,633.5 342.2,646.5 358.1,686.3" fill="none"/>
<polygon points="309,633.5 309,611.8 357.4,611.8 399.4,624.8 438.1,611.8 457.5,605.3 457.5,646.1 394.5,646.1 371.3,686.3 358.1,686.3 342.2,646.5 330.3,633.5" fill="none"/>
<polygon points="371.3,686.3 394.5,646.1 415.5,646.1 415.5,686.3" fill="none"/>
<polygon points="415.5,646.1 457.5,646.1 457.5,760.8 415.5,760.8" fill="none"/>
<polygon points="265.4,760.8 265.4,701.5 286.4,686.3 415.5,686.3 415.5,760.8" fill="none"/>
<polyline points="244.4,563.2 244.4,527.6" fill="none" stroke="#1a1a1a" stroke-width="1.25"/>
<polyline points="309,563.2 309,527.6" fill="none" stroke="#1a1a1a" stroke-width="1.25"/>
<polyline points="405.8,563.2 405.8,527.6" fill="none" stroke="#1a1a1a" stroke-width="1.25"/>
<polyline points="83.1,552.8 108.9,547 134.7,541.2" fill="none" stroke="#1a1a1a" stroke-width="1.25"/>
</g>
<g class="b" font-size="10.5" text-anchor="middle">
<text x="172.8" y="599.3">MED</text>
<text x="96.3" y="631.4">SAH</text>
<text x="89.5" y="678">WAF</text>
<text x="183.5" y="717.6">CAF</text>
<text x="245.7" y="694.6">NEAF</text>
<text x="217" y="724.7">SEAF</text>
<text x="319" y="660.2">ARS</text>
<text x="394.5" y="667">BOB</text>
<text x="333.6" y="591.8">WCA</text>
<text x="399.1" y="583.4">ECA</text>
<text x="398.1" y="605.8">TIB</text>
<text x="263.8" y="629.4">ARP</text>
<text x="367.1" y="634.3">SAS</text>
</g>
</g>
<path d="M56.3 547H50.8V741.4H438.1V735.9" fill="none" stroke="#1a1a1a" stroke-width="1.3"/>
<g class="b" font-size="16.3" stroke="#111" stroke-width=".25">
<text transform="translate(43.8,553.6) scale(0.93,1)" text-anchor="end">50</text>
<text transform="translate(43.8,586) scale(0.93,1)" text-anchor="end">40</text>
<text transform="translate(43.8,618.4) scale(0.93,1)" text-anchor="end">30</text>
<text transform="translate(43.8,650.8) scale(0.93,1)" text-anchor="end">20</text>
<text transform="translate(43.8,683.2) scale(0.93,1)" text-anchor="end">10</text>
<text transform="translate(43.8,715.6) scale(0.93,1)" text-anchor="end">0</text>
<text transform="translate(43.8,748) scale(0.93,1)" text-anchor="end">-10</text>
<text transform="translate(50.9,761.6) scale(0.93,1)" text-anchor="middle">-20</text>
<text transform="translate(115.3,761.6) scale(0.93,1)" text-anchor="middle">0</text>
<text transform="translate(179.9,761.6) scale(0.93,1)" text-anchor="middle">20</text>
<text transform="translate(244.4,761.6) scale(0.93,1)" text-anchor="middle">40</text>
<text transform="translate(309,761.6) scale(0.93,1)" text-anchor="middle">60</text>
<text transform="translate(373.6,761.6) scale(0.93,1)" text-anchor="middle">80</text>
<text transform="translate(438.1,761.6) scale(0.93,1)" text-anchor="middle">100</text>
</g>
<g class="mk">
<polygon points="312.4,569.5 325.4,569.5 318.9,557.9" fill="#a30d2d"/>
<circle cx="221.9" cy="579.5" r="5.2" fill="#fff"/>
<circle cx="188.1" cy="587" r="5.2" fill="#fff"/>
<circle cx="260.2" cy="572.6" r="5.2" fill="#fff"/>
<circle cx="259.3" cy="578.8" r="5.2" fill="#fff"/>
<circle cx="265" cy="584.3" r="5.2" fill="#fff"/>
<circle cx="258.4" cy="600.7" r="5.2" fill="#fff"/>
<circle cx="304.2" cy="585.9" r="5.2" fill="#fff"/>
<circle cx="308.4" cy="591.6" r="5.2" fill="#fff"/>
<polygon points="204.7,611.5 217.7,611.5 211.2,599.9" fill="#ec6f4b"/>
<circle cx="216.4" cy="611.6" r="5.2" fill="#fff"/>
<circle cx="282.1" cy="627" r="5.2" fill="#fff"/>
<circle cx="292" cy="629.9" r="5.2" fill="#fff"/>
<circle cx="63.7" cy="650" r="5.2" fill="#fff"/>
<polygon points="56.2,668.4 69.2,668.4 62.7,656.8" fill="#a30d2d"/>
<polygon points="104.2,673 117.2,673 110.7,661.4" fill="#a30d2d"/>
<circle cx="164.3" cy="669.7" r="5.2" fill="#fff"/>
<circle cx="175.3" cy="694.7" r="5.2" fill="#fff"/>
<polygon points="352.4,610.6 365.4,610.6 358.9,622.2" fill="#5da5d2"/>
<circle cx="364.7" cy="616.1" r="5.2" fill="#fff"/>
<polygon points="365.9,620 378.9,620 372.4,608.4" fill="#ec6f4b"/>
<circle cx="336.4" cy="626.3" r="5.2" fill="#fff"/>
<circle cx="344.1" cy="621.5" r="5.2" fill="#fff"/>
<polygon points="344.7,627.9 357.7,627.9 351.2,616.3" fill="#dc2c2e"/>
<circle cx="367.7" cy="623.6" r="5.2" fill="#fff"/>
<polygon points="354.3,631.6 367.3,631.6 360.8,620" fill="#f4a562"/>
<circle cx="376.6" cy="622.3" r="5.2" fill="#fff"/>
<circle cx="384.9" cy="622.6" r="5.2" fill="#fff"/>
<polygon points="373.6,622.7 386.6,622.7 380.1,634.3" fill="#2f3f97"/>
<circle cx="376.3" cy="629.2" r="5.2" fill="#fff"/>
<polygon points="382.7,633.2 395.7,633.2 389.2,621.6" fill="#a30d2d"/>
<circle cx="410.8" cy="623.9" r="5.2" fill="#fff"/>
<polygon points="404.6,635.6 417.6,635.6 411.1,624" fill="#ec6f4b"/>
<polygon points="412.6,632.9 425.6,632.9 419.1,621.3" fill="#dc2c2e"/>
<circle cx="393.5" cy="634.3" r="5.2" fill="#fff"/>
<circle cx="400.7" cy="635.1" r="5.2" fill="#fff"/>
<circle cx="392.3" cy="642.9" r="5.2" fill="#fff"/>
<circle cx="350.4" cy="632.8" r="5.2" fill="#fff"/>
<circle cx="343.7" cy="636" r="5.2" fill="#fff"/>
<circle cx="350.4" cy="640" r="5.2" fill="#fff"/>
<polygon points="357.8,646.4 370.8,646.4 364.3,634.8" fill="#dc2c2e"/>
<polygon points="354.8,655.7 367.8,655.7 361.3,644.1" fill="#ec6f4b"/>
<circle cx="357" cy="665.7" r="5.2" fill="#fff"/>
<polygon points="368,662.4 381,662.4 374.5,674" fill="#3a73b5"/>
<polygon points="352.7,667.9 365.7,667.9 359.2,679.5" fill="#5da5d2"/>
<polygon points="363.1,668.5 376.1,668.5 369.6,680.1" fill="#5da5d2"/>
<polygon points="357.5,677.5 370.5,677.5 364,689.1" fill="#3a73b5"/>
</g>
<text class="b" font-size="21.6" text-anchor="middle" transform="translate(16.2,358.4) rotate(-90) scale(.925,1)">Latitude</text>
<text class="b" font-size="21.4" text-anchor="middle" transform="translate(234.8,783.4) scale(.95,1)">Longitude</text><rect x="237.6" y="795.3" width="5" height="1" fill="#9a9a9a"/>
<path d="M557.3 94.8L557.3 16.8A78 78 0 0 0 486.7 128Z" fill="#d26d6a" stroke="#444" stroke-width=".6" stroke-linejoin="round"/>
<path d="M555.8 102.5L485.3 135.7A78 78 0 0 0 609.2 159.3Z" fill="#c5c7c7" stroke="#444" stroke-width=".6" stroke-linejoin="round"/>
<path d="M557.3 94.8L610.7 151.7A78 78 0 0 0 557.3 16.8Z" fill="#78c2e8" stroke="#444" stroke-width=".6" stroke-linejoin="round"/>
<text font-size="14" text-anchor="middle" x="477.6" y="52.7">32%</text>
<text font-size="14" text-anchor="middle" x="645.7" y="71.3">38%</text>
<text font-size="14" text-anchor="middle" x="535.5" y="190">30%</text>
<path d="M553.7 361.6L553.7 282.9A78.7 78.7 0 0 0 487.3 403.8Z" fill="#d26d6a" stroke="#444" stroke-width=".6" stroke-linejoin="round"/>
<path d="M558.1 368.1L491.7 410.3A78.7 78.7 0 1 0 621.8 321.9Z" fill="#c5c7c7" stroke="#444" stroke-width=".6" stroke-linejoin="round"/>
<path d="M553.7 361.6L617.4 315.3A78.7 78.7 0 0 0 553.7 282.9Z" fill="#78c2e8" stroke="#444" stroke-width=".6" stroke-linejoin="round"/>
<text font-size="14" text-anchor="middle" x="474.7" y="314.8">34%</text>
<text font-size="14" text-anchor="middle" x="604.5" y="291.6">15%</text>
<text font-size="14" text-anchor="middle" x="614.5" y="448.2">51%</text>
<path d="M551.6 637L551.6 558.3A78.7 78.7 0 0 0 473 640Z" fill="#d26d6a" stroke="#444" stroke-width=".6" stroke-linejoin="round"/>
<path d="M554.7 644.2L476 647.2A78.7 78.7 0 1 0 611.4 589.7Z" fill="#c5c7c7" stroke="#444" stroke-width=".6" stroke-linejoin="round"/>
<path d="M551.6 637L608.3 582.4A78.7 78.7 0 0 0 551.6 558.3Z" fill="#78c2e8" stroke="#444" stroke-width=".6" stroke-linejoin="round"/>
<text font-size="14" text-anchor="middle" x="480.1" y="581.6">26%</text>
<text font-size="14" text-anchor="middle" x="599.9" y="562.7">13%</text>
<text font-size="14" text-anchor="middle" x="593.8" y="731.8">62%</text>
<polygon points="31.1,483.6 50.9,474.4 86.8,474.4 86.8,492.9 50.9,492.9" fill="#2f3f97"/>
<rect x="86.5" y="474.4" width="35.9" height="18.5" fill="#3a73b5"/>
<rect x="122.1" y="474.4" width="35.9" height="18.5" fill="#5da5d2"/>
<rect x="157.7" y="474.4" width="35.9" height="18.5" fill="#8fcbe1"/>
<rect x="193.3" y="474.4" width="35.9" height="18.5" fill="#cde7ed"/>
<rect x="228.9" y="474.4" width="35.9" height="18.5" fill="#ffffff"/>
<rect x="264.5" y="474.4" width="35.9" height="18.5" fill="#f7df8e"/>
<rect x="300.1" y="474.4" width="35.9" height="18.5" fill="#f4a562"/>
<rect x="335.7" y="474.4" width="35.9" height="18.5" fill="#ec6f4b"/>
<rect x="371.3" y="474.4" width="35.9" height="18.5" fill="#dc2c2e"/>
<polygon points="406.9,474.4 442.5,474.4 462.3,483.6 442.5,492.9 406.9,492.9" fill="#a30d2d"/>
<polygon points="31.1,483.6 50.9,474.4 442.5,474.4 462.3,483.6 442.5,492.9 50.9,492.9" fill="none" stroke="#333" stroke-width=".5"/>
<path d="M50.9 492.9v-4M86.5 492.9v-4M122.1 492.9v-4M157.7 492.9v-4M193.3 492.9v-4M228.9 492.9v-4M264.5 492.9v-4M300.1 492.9v-4M335.7 492.9v-4M371.3 492.9v-4M406.9 492.9v-4M442.5 492.9v-4" stroke="#222" stroke-width=".8" fill="none"/>
<g class="b" font-size="12" text-anchor="middle">
<text x="86.5" y="510.3">-4</text>
<text x="122.1" y="510.3">-3</text>
<text x="157.7" y="510.3">-2</text>
<text x="193.3" y="510.3">-1</text>
<text x="228.9" y="510.3">-0.5</text>
<text x="264.5" y="510.3">0.5</text>
<text x="300.1" y="510.3">1</text>
<text x="335.7" y="510.3">2</text>
<text x="371.3" y="510.3">4</text>
<text x="406.9" y="510.3">6</text>
</g>
<text class="b" font-size="15.5" text-anchor="middle" x="241.7" y="529.3">Percentage change decade<tspan font-size="9.4" dy="-4.7" font-weight="700">-1</tspan></text>
<polygon points="28.4,806.1 48.5,796.9 92.4,796.9 92.4,815.3 48.5,815.3" fill="#3a73b5"/>
<rect x="92.1" y="796.9" width="43.9" height="18.4" fill="#5da5d2"/>
<rect x="135.7" y="796.9" width="43.9" height="18.4" fill="#8fcbe1"/>
<rect x="179.3" y="796.9" width="43.9" height="18.4" fill="#cde7ed"/>
<rect x="222.9" y="796.9" width="43.9" height="18.4" fill="#ffffff"/>
<rect x="266.4" y="796.9" width="43.9" height="18.4" fill="#f7df8e"/>
<rect x="310" y="796.9" width="43.9" height="18.4" fill="#f4a562"/>
<rect x="353.6" y="796.9" width="43.9" height="18.4" fill="#ec6f4b"/>
<polygon points="397.2,796.9 440.8,796.9 461,806.1 440.8,815.3 397.2,815.3" fill="#dc2c2e"/>
<polygon points="28.4,806.1 48.5,796.9 440.8,796.9 461,806.1 440.8,815.3 48.5,815.3" fill="none" stroke="#333" stroke-width=".5"/>
<path d="M48.5 815.3v-4M92.1 815.3v-4M135.7 815.3v-4M179.3 815.3v-4M222.9 815.3v-4M266.4 815.3v-4M310 815.3v-4M353.6 815.3v-4M397.2 815.3v-4M440.8 815.3v-4" stroke="#222" stroke-width=".8" fill="none"/>
<g class="b" font-size="12" text-anchor="middle">
<text x="92.1" y="832.1">-20</text>
<text x="135.7" y="832.1">-15</text>
<text x="179.3" y="832.1">-10</text>
<text x="222.9" y="832.1">-1</text>
<text x="266.4" y="832.1">1</text>
<text x="310" y="832.1">10</text>
<text x="353.6" y="832.1">20</text>
<text x="397.2" y="832.1">40</text>
</g>
<text class="b" font-size="15.5" text-anchor="middle" x="237.5" y="853.4">Percentage change decade<tspan font-size="9.4" dy="-4.7" font-weight="700">-1</tspan></text>
<rect x="477.3" y="756.4" width="24.7" height="11.8" fill="#d26d6a" stroke="#444" stroke-width=".6"/>
<text class="b" font-size="13.5" x="504.2" y="768.2">Significant Upward Trend</text>
<rect x="477.3" y="773.5" width="24.7" height="11.8" fill="#c5c7c7" stroke="#444" stroke-width=".6"/>
<text class="b" font-size="13.5" x="504.2" y="785.3">Insignificant Trend</text>
<rect x="477.3" y="791" width="24.7" height="11.8" fill="#78c2e8" stroke="#444" stroke-width=".6"/>
<text class="b" font-size="13.5" x="504.2" y="802.8" textLength="179" lengthAdjust="spacingAndGlyphs">Significant Downward Trend</text>
</svg></body></html>
